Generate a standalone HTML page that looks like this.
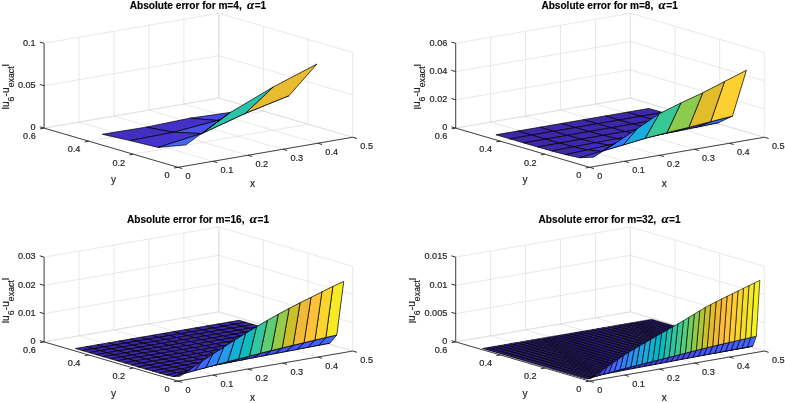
<!DOCTYPE html>
<html><head><meta charset="utf-8"><title>Absolute error</title>
<style>
html,body{margin:0;padding:0;background:#fff;}
svg{display:block;font-family:"Liberation Sans",sans-serif;}
</style></head><body>
<svg width="785" height="403" viewBox="0 0 785 403">
<rect width="785" height="403" fill="#fff"/>
<g stroke-linecap="butt">
<line x1="178" y1="167.3" x2="44.1" y2="128.1" stroke="#d8d8d8" stroke-width="0.6"/>
<line x1="44.1" y1="128.1" x2="44.1" y2="43.3" stroke="#d8d8d8" stroke-width="0.6"/>
<line x1="212.94" y1="161.29" x2="79.04" y2="122.09" stroke="#d8d8d8" stroke-width="0.6"/>
<line x1="79.04" y1="122.09" x2="79.04" y2="37.29" stroke="#d8d8d8" stroke-width="0.6"/>
<line x1="247.88" y1="155.28" x2="113.98" y2="116.08" stroke="#d8d8d8" stroke-width="0.6"/>
<line x1="113.98" y1="116.08" x2="113.98" y2="31.28" stroke="#d8d8d8" stroke-width="0.6"/>
<line x1="282.82" y1="149.27" x2="148.92" y2="110.07" stroke="#d8d8d8" stroke-width="0.6"/>
<line x1="148.92" y1="110.07" x2="148.92" y2="25.27" stroke="#d8d8d8" stroke-width="0.6"/>
<line x1="317.76" y1="143.26" x2="183.86" y2="104.06" stroke="#d8d8d8" stroke-width="0.6"/>
<line x1="183.86" y1="104.06" x2="183.86" y2="19.26" stroke="#d8d8d8" stroke-width="0.6"/>
<line x1="352.7" y1="137.25" x2="218.8" y2="98.05" stroke="#d8d8d8" stroke-width="0.6"/>
<line x1="218.8" y1="98.05" x2="218.8" y2="13.25" stroke="#d8d8d8" stroke-width="0.6"/>
<line x1="178" y1="167.3" x2="352.7" y2="137.25" stroke="#d8d8d8" stroke-width="0.6"/>
<line x1="352.7" y1="137.25" x2="352.7" y2="52.45" stroke="#d8d8d8" stroke-width="0.6"/>
<line x1="133.37" y1="154.23" x2="308.07" y2="124.18" stroke="#d8d8d8" stroke-width="0.6"/>
<line x1="308.07" y1="124.18" x2="308.07" y2="39.38" stroke="#d8d8d8" stroke-width="0.6"/>
<line x1="88.73" y1="141.17" x2="263.43" y2="111.12" stroke="#d8d8d8" stroke-width="0.6"/>
<line x1="263.43" y1="111.12" x2="263.43" y2="26.32" stroke="#d8d8d8" stroke-width="0.6"/>
<line x1="44.1" y1="128.1" x2="218.8" y2="98.05" stroke="#d8d8d8" stroke-width="0.6"/>
<line x1="218.8" y1="98.05" x2="218.8" y2="13.25" stroke="#d8d8d8" stroke-width="0.6"/>
<line x1="44.1" y1="128.1" x2="218.8" y2="98.05" stroke="#d8d8d8" stroke-width="0.6"/>
<line x1="218.8" y1="98.05" x2="352.7" y2="137.25" stroke="#d8d8d8" stroke-width="0.6"/>
<line x1="44.1" y1="85.7" x2="218.8" y2="55.65" stroke="#d8d8d8" stroke-width="0.6"/>
<line x1="218.8" y1="55.65" x2="352.7" y2="94.85" stroke="#d8d8d8" stroke-width="0.6"/>
<line x1="44.1" y1="43.3" x2="218.8" y2="13.25" stroke="#d8d8d8" stroke-width="0.6"/>
<line x1="218.8" y1="13.25" x2="352.7" y2="52.45" stroke="#d8d8d8" stroke-width="0.6"/>
</g>
<line x1="178" y1="167.3" x2="352.7" y2="137.25" stroke="#262626" stroke-width="0.85"/>
<line x1="178" y1="167.3" x2="44.1" y2="128.1" stroke="#262626" stroke-width="0.85"/>
<line x1="44.1" y1="128.1" x2="44.1" y2="43.3" stroke="#262626" stroke-width="0.85"/>
<line x1="178" y1="167.3" x2="182.32" y2="168.56" stroke="#262626" stroke-width="0.95"/>
<line x1="212.94" y1="161.29" x2="217.26" y2="162.55" stroke="#262626" stroke-width="0.95"/>
<line x1="247.88" y1="155.28" x2="252.2" y2="156.54" stroke="#262626" stroke-width="0.95"/>
<line x1="282.82" y1="149.27" x2="287.14" y2="150.53" stroke="#262626" stroke-width="0.95"/>
<line x1="317.76" y1="143.26" x2="322.08" y2="144.52" stroke="#262626" stroke-width="0.95"/>
<line x1="352.7" y1="137.25" x2="357.02" y2="138.51" stroke="#262626" stroke-width="0.95"/>
<line x1="178" y1="167.3" x2="174.01" y2="167.99" stroke="#262626" stroke-width="0.95"/>
<line x1="133.37" y1="154.23" x2="129.38" y2="154.92" stroke="#262626" stroke-width="0.95"/>
<line x1="88.73" y1="141.17" x2="84.74" y2="141.85" stroke="#262626" stroke-width="0.95"/>
<line x1="44.1" y1="128.1" x2="40.11" y2="128.79" stroke="#262626" stroke-width="0.95"/>
<line x1="44.1" y1="128.1" x2="39.78" y2="126.84" stroke="#262626" stroke-width="0.95"/>
<line x1="44.1" y1="85.7" x2="39.78" y2="84.44" stroke="#262626" stroke-width="0.95"/>
<line x1="44.1" y1="43.3" x2="39.78" y2="42.04" stroke="#262626" stroke-width="0.95"/>
<g font-size="9.15" fill="#262626" stroke="#262626" stroke-width="0.2"><text x="185.6" y="178.7">0</text><text x="220.54" y="173.49">0.1</text><text x="255.48" y="167.48">0.2</text><text x="290.42" y="161.47">0.3</text><text x="325.36" y="155.46">0.4</text><text x="360.3" y="149.45">0.5</text><text x="169.7" y="178.1" text-anchor="end">0</text><text x="125.07" y="165.53" text-anchor="end">0.2</text><text x="80.43" y="152.47" text-anchor="end">0.4</text><text x="35.8" y="139.4" text-anchor="end">0.6</text><text x="35.7" y="130.4" text-anchor="end">0</text><text x="35.7" y="88" text-anchor="end">0.05</text><text x="35.7" y="45.6" text-anchor="end">0.1</text></g>
<g font-size="10.1" fill="#262626" stroke="#262626" stroke-width="0.2"><text x="252.6" y="187" text-anchor="middle">x</text><text x="113.4" y="183.2" text-anchor="middle">y</text><text transform="translate(8.5,86.7) rotate(-90)" text-anchor="middle" letter-spacing="0.1"><tspan font-size="7" font-weight="bold" dy="-1.2">|</tspan><tspan dy="1.2">u</tspan><tspan dy="5.2" font-size="8.6">6</tspan><tspan dy="-5.2">-u</tspan><tspan dy="5.2" font-size="8.6">exact</tspan><tspan dy="-6.4" font-size="7" font-weight="bold">|</tspan></text></g>
<text x="198" y="8.7" text-anchor="middle" font-size="10.1" font-weight="bold" fill="#000" stroke="#000" stroke-width="0.15" style="white-space:pre">Absolute error for m=4,  <tspan font-style="italic" font-family="'Liberation Serif',serif" font-size="13" dx="-0.3">α</tspan><tspan dx="0.5">=1</tspan></text>
<g stroke="#000" stroke-width="0.72" stroke-linejoin="round"><polygon points="217.45,120.47 261.12,104.48 233.23,112 189.55,118.24" fill="#4744e8"/><polygon points="173.77,132.22 217.45,120.47 189.55,118.24 145.88,127.19" fill="#4331c8"/><polygon points="245.34,113.37 289.02,95.68 261.12,104.48 217.45,120.47" fill="#2c8ff0"/><polygon points="130.1,140.58 173.77,132.22 145.88,127.19 102.2,134.28" fill="#422ebf"/><polygon points="201.67,133.61 245.34,113.37 217.45,120.47 173.77,132.22" fill="#4850f3"/><polygon points="157.99,147.39 201.67,133.61 173.77,132.22 130.1,140.58" fill="#4433cc"/><polygon points="273.24,86.94 316.91,63.99 289.02,95.68 245.34,113.37" fill="#e9bb2f"/><polygon points="229.56,112.94 273.24,86.94 245.34,113.37 201.67,133.61" fill="#29c3aa"/><polygon points="185.89,144.87 229.56,112.94 201.67,133.61 157.99,147.39" fill="#4466fd"/></g>
<g stroke-linecap="butt">
<line x1="589.6" y1="167.3" x2="455.7" y2="128.1" stroke="#d8d8d8" stroke-width="0.6"/>
<line x1="455.7" y1="128.1" x2="455.7" y2="43.3" stroke="#d8d8d8" stroke-width="0.6"/>
<line x1="624.54" y1="161.29" x2="490.64" y2="122.09" stroke="#d8d8d8" stroke-width="0.6"/>
<line x1="490.64" y1="122.09" x2="490.64" y2="37.29" stroke="#d8d8d8" stroke-width="0.6"/>
<line x1="659.48" y1="155.28" x2="525.58" y2="116.08" stroke="#d8d8d8" stroke-width="0.6"/>
<line x1="525.58" y1="116.08" x2="525.58" y2="31.28" stroke="#d8d8d8" stroke-width="0.6"/>
<line x1="694.42" y1="149.27" x2="560.52" y2="110.07" stroke="#d8d8d8" stroke-width="0.6"/>
<line x1="560.52" y1="110.07" x2="560.52" y2="25.27" stroke="#d8d8d8" stroke-width="0.6"/>
<line x1="729.36" y1="143.26" x2="595.46" y2="104.06" stroke="#d8d8d8" stroke-width="0.6"/>
<line x1="595.46" y1="104.06" x2="595.46" y2="19.26" stroke="#d8d8d8" stroke-width="0.6"/>
<line x1="764.3" y1="137.25" x2="630.4" y2="98.05" stroke="#d8d8d8" stroke-width="0.6"/>
<line x1="630.4" y1="98.05" x2="630.4" y2="13.25" stroke="#d8d8d8" stroke-width="0.6"/>
<line x1="589.6" y1="167.3" x2="764.3" y2="137.25" stroke="#d8d8d8" stroke-width="0.6"/>
<line x1="764.3" y1="137.25" x2="764.3" y2="52.45" stroke="#d8d8d8" stroke-width="0.6"/>
<line x1="544.97" y1="154.23" x2="719.67" y2="124.18" stroke="#d8d8d8" stroke-width="0.6"/>
<line x1="719.67" y1="124.18" x2="719.67" y2="39.38" stroke="#d8d8d8" stroke-width="0.6"/>
<line x1="500.33" y1="141.17" x2="675.03" y2="111.12" stroke="#d8d8d8" stroke-width="0.6"/>
<line x1="675.03" y1="111.12" x2="675.03" y2="26.32" stroke="#d8d8d8" stroke-width="0.6"/>
<line x1="455.7" y1="128.1" x2="630.4" y2="98.05" stroke="#d8d8d8" stroke-width="0.6"/>
<line x1="630.4" y1="98.05" x2="630.4" y2="13.25" stroke="#d8d8d8" stroke-width="0.6"/>
<line x1="455.7" y1="128.1" x2="630.4" y2="98.05" stroke="#d8d8d8" stroke-width="0.6"/>
<line x1="630.4" y1="98.05" x2="764.3" y2="137.25" stroke="#d8d8d8" stroke-width="0.6"/>
<line x1="455.7" y1="99.83" x2="630.4" y2="69.78" stroke="#d8d8d8" stroke-width="0.6"/>
<line x1="630.4" y1="69.78" x2="764.3" y2="108.98" stroke="#d8d8d8" stroke-width="0.6"/>
<line x1="455.7" y1="71.57" x2="630.4" y2="41.52" stroke="#d8d8d8" stroke-width="0.6"/>
<line x1="630.4" y1="41.52" x2="764.3" y2="80.72" stroke="#d8d8d8" stroke-width="0.6"/>
<line x1="455.7" y1="43.3" x2="630.4" y2="13.25" stroke="#d8d8d8" stroke-width="0.6"/>
<line x1="630.4" y1="13.25" x2="764.3" y2="52.45" stroke="#d8d8d8" stroke-width="0.6"/>
</g>
<line x1="589.6" y1="167.3" x2="764.3" y2="137.25" stroke="#262626" stroke-width="0.85"/>
<line x1="589.6" y1="167.3" x2="455.7" y2="128.1" stroke="#262626" stroke-width="0.85"/>
<line x1="455.7" y1="128.1" x2="455.7" y2="43.3" stroke="#262626" stroke-width="0.85"/>
<line x1="589.6" y1="167.3" x2="593.92" y2="168.56" stroke="#262626" stroke-width="0.95"/>
<line x1="624.54" y1="161.29" x2="628.86" y2="162.55" stroke="#262626" stroke-width="0.95"/>
<line x1="659.48" y1="155.28" x2="663.8" y2="156.54" stroke="#262626" stroke-width="0.95"/>
<line x1="694.42" y1="149.27" x2="698.74" y2="150.53" stroke="#262626" stroke-width="0.95"/>
<line x1="729.36" y1="143.26" x2="733.68" y2="144.52" stroke="#262626" stroke-width="0.95"/>
<line x1="764.3" y1="137.25" x2="768.62" y2="138.51" stroke="#262626" stroke-width="0.95"/>
<line x1="589.6" y1="167.3" x2="585.61" y2="167.99" stroke="#262626" stroke-width="0.95"/>
<line x1="544.97" y1="154.23" x2="540.98" y2="154.92" stroke="#262626" stroke-width="0.95"/>
<line x1="500.33" y1="141.17" x2="496.34" y2="141.85" stroke="#262626" stroke-width="0.95"/>
<line x1="455.7" y1="128.1" x2="451.71" y2="128.79" stroke="#262626" stroke-width="0.95"/>
<line x1="455.7" y1="128.1" x2="451.38" y2="126.84" stroke="#262626" stroke-width="0.95"/>
<line x1="455.7" y1="99.83" x2="451.38" y2="98.57" stroke="#262626" stroke-width="0.95"/>
<line x1="455.7" y1="71.57" x2="451.38" y2="70.3" stroke="#262626" stroke-width="0.95"/>
<line x1="455.7" y1="43.3" x2="451.38" y2="42.04" stroke="#262626" stroke-width="0.95"/>
<g font-size="9.15" fill="#262626" stroke="#262626" stroke-width="0.2"><text x="597.2" y="178.7">0</text><text x="632.14" y="173.49">0.1</text><text x="667.08" y="167.48">0.2</text><text x="702.02" y="161.47">0.3</text><text x="736.96" y="155.46">0.4</text><text x="771.9" y="149.45">0.5</text><text x="581.3" y="178.1" text-anchor="end">0</text><text x="536.67" y="165.53" text-anchor="end">0.2</text><text x="492.03" y="152.47" text-anchor="end">0.4</text><text x="447.4" y="139.4" text-anchor="end">0.6</text><text x="447.3" y="130.4" text-anchor="end">0</text><text x="447.3" y="102.13" text-anchor="end">0.02</text><text x="447.3" y="73.87" text-anchor="end">0.04</text><text x="447.3" y="45.6" text-anchor="end">0.06</text></g>
<g font-size="10.1" fill="#262626" stroke="#262626" stroke-width="0.2"><text x="664.2" y="187" text-anchor="middle">x</text><text x="525" y="183.2" text-anchor="middle">y</text><text transform="translate(420.1,86.7) rotate(-90)" text-anchor="middle" letter-spacing="0.1"><tspan font-size="7" font-weight="bold" dy="-1.2">|</tspan><tspan dy="1.2">u</tspan><tspan dy="5.2" font-size="8.6">6</tspan><tspan dy="-5.2">-u</tspan><tspan dy="5.2" font-size="8.6">exact</tspan><tspan dy="-6.4" font-size="7" font-weight="bold">|</tspan></text></g>
<text x="609.6" y="8.7" text-anchor="middle" font-size="10.1" font-weight="bold" fill="#000" stroke="#000" stroke-width="0.15" style="white-space:pre">Absolute error for m=8,  <tspan font-style="italic" font-family="'Liberation Serif',serif" font-size="13" dx="-0.3">α</tspan><tspan dx="0.5">=1</tspan></text>
<g stroke="#000" stroke-width="0.72" stroke-linejoin="round"><polygon points="640.88,116.22 662.72,112.45 648.77,108.44 626.93,112.2" fill="#3e27aa"/><polygon points="619.04,120 640.88,116.22 626.93,112.2 605.1,115.96" fill="#3e27a9"/><polygon points="654.83,120.19 676.67,116.4 662.72,112.45 640.88,116.22" fill="#3e27ab"/><polygon points="597.21,123.76 619.04,120 605.1,115.96 583.26,119.73" fill="#3e27a9"/><polygon points="632.99,123.98 654.83,120.19 640.88,116.22 619.04,120" fill="#3e27ab"/><polygon points="668.78,123.92 690.62,120.09 676.67,116.4 654.83,120.19" fill="#3f28af"/><polygon points="575.37,127.53 597.21,123.76 583.26,119.73 561.42,123.49" fill="#3e27a9"/><polygon points="611.16,127.76 632.99,123.98 619.04,120 597.21,123.76" fill="#3e27aa"/><polygon points="646.94,127.75 668.78,123.92 654.83,120.19 632.99,123.98" fill="#3f28ae"/><polygon points="682.73,126.81 704.56,122.83 690.62,120.09 668.78,123.92" fill="#412dbc"/><polygon points="553.53,131.31 575.37,127.53 561.42,123.49 539.58,127.26" fill="#3e27a9"/><polygon points="589.32,131.54 611.16,127.76 597.21,123.76 575.37,127.53" fill="#3e27aa"/><polygon points="625.1,131.57 646.94,127.75 632.99,123.98 611.16,127.76" fill="#3f28ad"/><polygon points="660.89,130.8 682.73,126.81 668.78,123.92 646.94,127.75" fill="#412cba"/><polygon points="696.67,127.1 718.51,122.64 704.56,122.83 682.73,126.81" fill="#463de0"/><polygon points="531.69,135.09 553.53,131.31 539.58,127.26 517.75,131.02" fill="#3e26a9"/><polygon points="567.48,135.34 589.32,131.54 575.37,127.53 553.53,131.31" fill="#3e27aa"/><polygon points="603.27,135.4 625.1,131.57 611.16,127.76 589.32,131.54" fill="#3f28ad"/><polygon points="639.05,134.74 660.89,130.8 646.94,127.75 625.1,131.57" fill="#402bb8"/><polygon points="674.84,131.57 696.67,127.1 682.73,126.81 660.89,130.8" fill="#463ada"/><polygon points="509.86,138.87 531.69,135.09 517.75,131.02 495.91,134.79" fill="#3e26a8"/><polygon points="545.64,139.14 567.48,135.34 553.53,131.31 531.69,135.09" fill="#3e27a9"/><polygon points="581.43,139.26 603.27,135.4 589.32,131.54 567.48,135.34" fill="#3e27ab"/><polygon points="617.21,138.71 639.05,134.74 625.1,131.57 603.27,135.4" fill="#402ab5"/><polygon points="710.62,121.74 732.46,116.11 718.51,122.64 696.67,127.1" fill="#3d70ff"/><polygon points="653,135.92 674.84,131.57 660.89,130.8 639.05,134.74" fill="#4537d5"/><polygon points="523.81,142.94 545.64,139.14 531.69,135.09 509.86,138.87" fill="#3e26a9"/><polygon points="559.59,143.13 581.43,139.26 567.48,135.34 545.64,139.14" fill="#3e27aa"/><polygon points="688.78,127.42 710.62,121.74 696.67,127.1 674.84,131.57" fill="#4465fd"/><polygon points="595.38,142.8 617.21,138.71 603.27,135.4 581.43,139.26" fill="#3f29b2"/><polygon points="631.16,140.35 653,135.92 639.05,134.74 617.21,138.71" fill="#4434cf"/><polygon points="537.75,146.99 559.59,143.13 545.64,139.14 523.81,142.94" fill="#3e27a9"/><polygon points="666.95,132.78 688.78,127.42 674.84,131.57 653,135.92" fill="#475dfa"/><polygon points="573.54,146.88 595.38,142.8 581.43,139.26 559.59,143.13" fill="#3f28ae"/><polygon points="609.32,145.14 631.16,140.35 617.21,138.71 595.38,142.8" fill="#4230c4"/><polygon points="645.11,138.35 666.95,132.78 653,135.92 631.16,140.35" fill="#4853f5"/><polygon points="551.7,150.94 573.54,146.88 559.59,143.13 537.75,146.99" fill="#3e27aa"/><polygon points="587.49,149.91 609.32,145.14 595.38,142.8 573.54,146.88" fill="#412cb9"/><polygon points="623.27,144.9 645.11,138.35 631.16,140.35 609.32,145.14" fill="#4744e8"/><polygon points="724.57,81.48 746.41,70.31 732.46,116.11 710.62,121.74" fill="#fcd030"/><polygon points="565.65,154.63 587.49,149.91 573.54,146.88 551.7,150.94" fill="#3f28af"/><polygon points="702.73,92.84 724.57,81.48 710.62,121.74 688.78,127.42" fill="#e1bc2b"/><polygon points="601.43,151.38 623.27,144.9 609.32,145.14 587.49,149.91" fill="#4536d4"/><polygon points="680.89,102.95 702.73,92.84 688.78,127.42 666.95,132.78" fill="#8dcb4f"/><polygon points="579.6,157.73 601.43,151.38 587.49,149.91 565.65,154.63" fill="#412cba"/><polygon points="659.06,113.86 680.89,102.95 666.95,132.78 645.11,138.35" fill="#38c896"/><polygon points="637.22,128.66 659.06,113.86 645.11,138.35 623.27,144.9" fill="#1aacdd"/><polygon points="615.38,143.19 637.22,128.66 623.27,144.9 601.43,151.38" fill="#3578fd"/><polygon points="593.54,157.2 615.38,143.19 601.43,151.38 579.6,157.73" fill="#4740e4"/></g>
<g stroke-linecap="butt">
<line x1="178" y1="381.1" x2="44.1" y2="341.9" stroke="#d8d8d8" stroke-width="0.6"/>
<line x1="44.1" y1="341.9" x2="44.1" y2="257.1" stroke="#d8d8d8" stroke-width="0.6"/>
<line x1="212.94" y1="375.09" x2="79.04" y2="335.89" stroke="#d8d8d8" stroke-width="0.6"/>
<line x1="79.04" y1="335.89" x2="79.04" y2="251.09" stroke="#d8d8d8" stroke-width="0.6"/>
<line x1="247.88" y1="369.08" x2="113.98" y2="329.88" stroke="#d8d8d8" stroke-width="0.6"/>
<line x1="113.98" y1="329.88" x2="113.98" y2="245.08" stroke="#d8d8d8" stroke-width="0.6"/>
<line x1="282.82" y1="363.07" x2="148.92" y2="323.87" stroke="#d8d8d8" stroke-width="0.6"/>
<line x1="148.92" y1="323.87" x2="148.92" y2="239.07" stroke="#d8d8d8" stroke-width="0.6"/>
<line x1="317.76" y1="357.06" x2="183.86" y2="317.86" stroke="#d8d8d8" stroke-width="0.6"/>
<line x1="183.86" y1="317.86" x2="183.86" y2="233.06" stroke="#d8d8d8" stroke-width="0.6"/>
<line x1="352.7" y1="351.05" x2="218.8" y2="311.85" stroke="#d8d8d8" stroke-width="0.6"/>
<line x1="218.8" y1="311.85" x2="218.8" y2="227.05" stroke="#d8d8d8" stroke-width="0.6"/>
<line x1="178" y1="381.1" x2="352.7" y2="351.05" stroke="#d8d8d8" stroke-width="0.6"/>
<line x1="352.7" y1="351.05" x2="352.7" y2="266.25" stroke="#d8d8d8" stroke-width="0.6"/>
<line x1="133.37" y1="368.03" x2="308.07" y2="337.98" stroke="#d8d8d8" stroke-width="0.6"/>
<line x1="308.07" y1="337.98" x2="308.07" y2="253.18" stroke="#d8d8d8" stroke-width="0.6"/>
<line x1="88.73" y1="354.97" x2="263.43" y2="324.92" stroke="#d8d8d8" stroke-width="0.6"/>
<line x1="263.43" y1="324.92" x2="263.43" y2="240.12" stroke="#d8d8d8" stroke-width="0.6"/>
<line x1="44.1" y1="341.9" x2="218.8" y2="311.85" stroke="#d8d8d8" stroke-width="0.6"/>
<line x1="218.8" y1="311.85" x2="218.8" y2="227.05" stroke="#d8d8d8" stroke-width="0.6"/>
<line x1="44.1" y1="341.9" x2="218.8" y2="311.85" stroke="#d8d8d8" stroke-width="0.6"/>
<line x1="218.8" y1="311.85" x2="352.7" y2="351.05" stroke="#d8d8d8" stroke-width="0.6"/>
<line x1="44.1" y1="313.63" x2="218.8" y2="283.58" stroke="#d8d8d8" stroke-width="0.6"/>
<line x1="218.8" y1="283.58" x2="352.7" y2="322.78" stroke="#d8d8d8" stroke-width="0.6"/>
<line x1="44.1" y1="285.37" x2="218.8" y2="255.32" stroke="#d8d8d8" stroke-width="0.6"/>
<line x1="218.8" y1="255.32" x2="352.7" y2="294.52" stroke="#d8d8d8" stroke-width="0.6"/>
<line x1="44.1" y1="257.1" x2="218.8" y2="227.05" stroke="#d8d8d8" stroke-width="0.6"/>
<line x1="218.8" y1="227.05" x2="352.7" y2="266.25" stroke="#d8d8d8" stroke-width="0.6"/>
</g>
<line x1="178" y1="381.1" x2="352.7" y2="351.05" stroke="#262626" stroke-width="0.85"/>
<line x1="178" y1="381.1" x2="44.1" y2="341.9" stroke="#262626" stroke-width="0.85"/>
<line x1="44.1" y1="341.9" x2="44.1" y2="257.1" stroke="#262626" stroke-width="0.85"/>
<line x1="178" y1="381.1" x2="182.32" y2="382.36" stroke="#262626" stroke-width="0.95"/>
<line x1="212.94" y1="375.09" x2="217.26" y2="376.35" stroke="#262626" stroke-width="0.95"/>
<line x1="247.88" y1="369.08" x2="252.2" y2="370.34" stroke="#262626" stroke-width="0.95"/>
<line x1="282.82" y1="363.07" x2="287.14" y2="364.33" stroke="#262626" stroke-width="0.95"/>
<line x1="317.76" y1="357.06" x2="322.08" y2="358.32" stroke="#262626" stroke-width="0.95"/>
<line x1="352.7" y1="351.05" x2="357.02" y2="352.31" stroke="#262626" stroke-width="0.95"/>
<line x1="178" y1="381.1" x2="174.01" y2="381.79" stroke="#262626" stroke-width="0.95"/>
<line x1="133.37" y1="368.03" x2="129.38" y2="368.72" stroke="#262626" stroke-width="0.95"/>
<line x1="88.73" y1="354.97" x2="84.74" y2="355.65" stroke="#262626" stroke-width="0.95"/>
<line x1="44.1" y1="341.9" x2="40.11" y2="342.59" stroke="#262626" stroke-width="0.95"/>
<line x1="44.1" y1="341.9" x2="39.78" y2="340.64" stroke="#262626" stroke-width="0.95"/>
<line x1="44.1" y1="313.63" x2="39.78" y2="312.37" stroke="#262626" stroke-width="0.95"/>
<line x1="44.1" y1="285.37" x2="39.78" y2="284.1" stroke="#262626" stroke-width="0.95"/>
<line x1="44.1" y1="257.1" x2="39.78" y2="255.84" stroke="#262626" stroke-width="0.95"/>
<g font-size="9.15" fill="#262626" stroke="#262626" stroke-width="0.2"><text x="185.6" y="392.5">0</text><text x="220.54" y="387.29">0.1</text><text x="255.48" y="381.28">0.2</text><text x="290.42" y="375.27">0.3</text><text x="325.36" y="369.26">0.4</text><text x="360.3" y="363.25">0.5</text><text x="169.7" y="391.9" text-anchor="end">0</text><text x="125.07" y="379.33" text-anchor="end">0.2</text><text x="80.43" y="366.27" text-anchor="end">0.4</text><text x="35.8" y="353.2" text-anchor="end">0.6</text><text x="35.7" y="344.2" text-anchor="end">0</text><text x="35.7" y="315.93" text-anchor="end">0.01</text><text x="35.7" y="287.67" text-anchor="end">0.02</text><text x="35.7" y="259.4" text-anchor="end">0.03</text></g>
<g font-size="10.1" fill="#262626" stroke="#262626" stroke-width="0.2"><text x="252.6" y="400.8" text-anchor="middle">x</text><text x="113.4" y="397" text-anchor="middle">y</text><text transform="translate(8.5,300.5) rotate(-90)" text-anchor="middle" letter-spacing="0.1"><tspan font-size="7" font-weight="bold" dy="-1.2">|</tspan><tspan dy="1.2">u</tspan><tspan dy="5.2" font-size="8.6">6</tspan><tspan dy="-5.2">-u</tspan><tspan dy="5.2" font-size="8.6">exact</tspan><tspan dy="-6.4" font-size="7" font-weight="bold">|</tspan></text></g>
<text x="198" y="222.5" text-anchor="middle" font-size="10.1" font-weight="bold" fill="#000" stroke="#000" stroke-width="0.15" style="white-space:pre">Absolute error for m=16,  <tspan font-style="italic" font-family="'Liberation Serif',serif" font-size="13" dx="-0.3">α</tspan><tspan dx="0.5">=1</tspan></text>
<g stroke="#000" stroke-width="0.72" stroke-linejoin="round"><polygon points="235.2,324.26 246.12,322.38 239.14,320.34 228.23,322.22" fill="#3e26a8"/><polygon points="224.28,326.14 235.2,324.26 228.23,322.22 217.31,324.1" fill="#3e26a8"/><polygon points="242.17,326.3 253.09,324.43 246.12,322.38 235.2,324.26" fill="#3e26a8"/><polygon points="213.36,328.02 224.28,326.14 217.31,324.1 206.39,325.98" fill="#3e26a8"/><polygon points="231.25,328.18 242.17,326.3 235.2,324.26 224.28,326.14" fill="#3e26a8"/><polygon points="249.15,328.34 260.07,326.47 253.09,324.43 242.17,326.3" fill="#3e26a8"/><polygon points="202.44,329.9 213.36,328.02 206.39,325.98 195.47,327.86" fill="#3e26a8"/><polygon points="220.34,330.06 231.25,328.18 224.28,326.14 213.36,328.02" fill="#3e26a8"/><polygon points="238.23,330.22 249.15,328.34 242.17,326.3 231.25,328.18" fill="#3e26a8"/><polygon points="256.12,330.38 267.04,328.51 260.07,326.47 249.15,328.34" fill="#3e26a8"/><polygon points="191.52,331.78 202.44,329.9 195.47,327.86 184.55,329.73" fill="#3e26a8"/><polygon points="209.42,331.94 220.34,330.06 213.36,328.02 202.44,329.9" fill="#3e26a8"/><polygon points="227.31,332.1 238.23,330.22 231.25,328.18 220.34,330.06" fill="#3e26a8"/><polygon points="245.2,332.26 256.12,330.38 249.15,328.34 238.23,330.22" fill="#3e26a8"/><polygon points="263.1,332.42 274.01,330.55 267.04,328.51 256.12,330.38" fill="#3e26a8"/><polygon points="180.61,333.65 191.52,331.78 184.55,329.73 173.63,331.61" fill="#3e26a8"/><polygon points="198.5,333.82 209.42,331.94 202.44,329.9 191.52,331.78" fill="#3e26a8"/><polygon points="216.39,333.98 227.31,332.1 220.34,330.06 209.42,331.94" fill="#3e26a8"/><polygon points="234.28,334.14 245.2,332.26 238.23,330.22 227.31,332.1" fill="#3e26a8"/><polygon points="252.18,334.3 263.1,332.42 256.12,330.38 245.2,332.26" fill="#3e26a8"/><polygon points="270.07,334.46 280.99,332.58 274.01,330.55 263.1,332.42" fill="#3e26a9"/><polygon points="169.69,335.53 180.61,333.65 173.63,331.61 162.71,333.49" fill="#3e26a8"/><polygon points="187.58,335.69 198.5,333.82 191.52,331.78 180.61,333.65" fill="#3e26a8"/><polygon points="205.47,335.86 216.39,333.98 209.42,331.94 198.5,333.82" fill="#3e26a8"/><polygon points="223.37,336.02 234.28,334.14 227.31,332.1 216.39,333.98" fill="#3e26a8"/><polygon points="241.26,336.18 252.18,334.3 245.2,332.26 234.28,334.14" fill="#3e26a8"/><polygon points="259.15,336.34 270.07,334.46 263.1,332.42 252.18,334.3" fill="#3e26a9"/><polygon points="277.04,336.49 287.96,334.61 280.99,332.58 270.07,334.46" fill="#3e26a9"/><polygon points="158.77,337.41 169.69,335.53 162.71,333.49 151.79,335.37" fill="#3e26a8"/><polygon points="176.66,337.57 187.58,335.69 180.61,333.65 169.69,335.53" fill="#3e26a8"/><polygon points="194.55,337.74 205.47,335.86 198.5,333.82 187.58,335.69" fill="#3e26a8"/><polygon points="212.45,337.9 223.37,336.02 216.39,333.98 205.47,335.86" fill="#3e26a8"/><polygon points="230.34,338.06 241.26,336.18 234.28,334.14 223.37,336.02" fill="#3e26a8"/><polygon points="248.23,338.22 259.15,336.34 252.18,334.3 241.26,336.18" fill="#3e26a8"/><polygon points="266.12,338.37 277.04,336.49 270.07,334.46 259.15,336.34" fill="#3e26a9"/><polygon points="284.02,338.5 294.94,336.62 287.96,334.61 277.04,336.49" fill="#3e27a9"/><polygon points="147.85,339.29 158.77,337.41 151.79,335.37 140.88,337.25" fill="#3e26a8"/><polygon points="165.74,339.45 176.66,337.57 169.69,335.53 158.77,337.41" fill="#3e26a8"/><polygon points="183.63,339.61 194.55,337.74 187.58,335.69 176.66,337.57" fill="#3e26a8"/><polygon points="201.53,339.78 212.45,337.9 205.47,335.86 194.55,337.74" fill="#3e26a8"/><polygon points="219.42,339.94 230.34,338.06 223.37,336.02 212.45,337.9" fill="#3e26a8"/><polygon points="237.31,340.1 248.23,338.22 241.26,336.18 230.34,338.06" fill="#3e26a8"/><polygon points="255.21,340.25 266.12,338.37 259.15,336.34 248.23,338.22" fill="#3e26a9"/><polygon points="273.1,340.39 284.02,338.5 277.04,336.49 266.12,338.37" fill="#3e27a9"/><polygon points="290.99,340.5 301.91,338.61 294.94,336.62 284.02,338.5" fill="#3e27a9"/><polygon points="136.93,341.17 147.85,339.29 140.88,337.25 129.96,339.12" fill="#3e26a8"/><polygon points="154.82,341.33 165.74,339.45 158.77,337.41 147.85,339.29" fill="#3e26a8"/><polygon points="172.72,341.49 183.63,339.61 176.66,337.57 165.74,339.45" fill="#3e26a8"/><polygon points="190.61,341.65 201.53,339.78 194.55,337.74 183.63,339.61" fill="#3e26a8"/><polygon points="208.5,341.82 219.42,339.94 212.45,337.9 201.53,339.78" fill="#3e26a8"/><polygon points="226.39,341.97 237.31,340.1 230.34,338.06 219.42,339.94" fill="#3e26a8"/><polygon points="244.29,342.13 255.21,340.25 248.23,338.22 237.31,340.1" fill="#3e26a9"/><polygon points="262.18,342.27 273.1,340.39 266.12,338.37 255.21,340.25" fill="#3e27a9"/><polygon points="280.07,342.38 290.99,340.5 284.02,338.5 273.1,340.39" fill="#3e27a9"/><polygon points="297.97,342.44 308.88,340.55 301.91,338.61 290.99,340.5" fill="#3e27ab"/><polygon points="126.01,343.04 136.93,341.17 129.96,339.12 119.04,341" fill="#3e26a8"/><polygon points="143.9,343.21 154.82,341.33 147.85,339.29 136.93,341.17" fill="#3e26a8"/><polygon points="161.8,343.37 172.72,341.49 165.74,339.45 154.82,341.33" fill="#3e26a8"/><polygon points="179.69,343.53 190.61,341.65 183.63,339.61 172.72,341.49" fill="#3e26a8"/><polygon points="197.58,343.69 208.5,341.82 201.53,339.78 190.61,341.65" fill="#3e26a8"/><polygon points="215.48,343.85 226.39,341.97 219.42,339.94 208.5,341.82" fill="#3e26a8"/><polygon points="233.37,344.01 244.29,342.13 237.31,340.1 226.39,341.97" fill="#3e26a9"/><polygon points="251.26,344.15 262.18,342.27 255.21,340.25 244.29,342.13" fill="#3e26a9"/><polygon points="269.15,344.26 280.07,342.38 273.1,340.39 262.18,342.27" fill="#3e27a9"/><polygon points="287.05,344.33 297.97,342.44 290.99,340.5 280.07,342.38" fill="#3e27aa"/><polygon points="304.94,344.15 315.86,342.25 308.88,340.55 297.97,342.44" fill="#3f28ae"/><polygon points="115.09,344.92 126.01,343.04 119.04,341 108.12,342.88" fill="#3e26a8"/><polygon points="132.99,345.09 143.9,343.21 136.93,341.17 126.01,343.04" fill="#3e26a8"/><polygon points="150.88,345.25 161.8,343.37 154.82,341.33 143.9,343.21" fill="#3e26a8"/><polygon points="168.77,345.41 179.69,343.53 172.72,341.49 161.8,343.37" fill="#3e26a8"/><polygon points="186.66,345.57 197.58,343.69 190.61,341.65 179.69,343.53" fill="#3e26a8"/><polygon points="204.56,345.73 215.48,343.85 208.5,341.82 197.58,343.69" fill="#3e26a8"/><polygon points="222.45,345.89 233.37,344.01 226.39,341.97 215.48,343.85" fill="#3e26a9"/><polygon points="240.34,346.03 251.26,344.15 244.29,342.13 233.37,344.01" fill="#3e26a9"/><polygon points="258.23,346.15 269.15,344.26 262.18,342.27 251.26,344.15" fill="#3e27a9"/><polygon points="276.13,346.22 287.05,344.33 280.07,342.38 269.15,344.26" fill="#3e27aa"/><polygon points="294.02,346.06 304.94,344.15 297.97,342.44 287.05,344.33" fill="#3f28ae"/><polygon points="104.17,346.8 115.09,344.92 108.12,342.88 97.2,344.76" fill="#3e26a8"/><polygon points="122.07,346.96 132.99,345.09 126.01,343.04 115.09,344.92" fill="#3e26a8"/><polygon points="311.91,345.39 322.83,343.45 315.86,342.25 304.94,344.15" fill="#402bb7"/><polygon points="139.96,347.13 150.88,345.25 143.9,343.21 132.99,345.09" fill="#3e26a8"/><polygon points="157.85,347.29 168.77,345.41 161.8,343.37 150.88,345.25" fill="#3e26a8"/><polygon points="175.75,347.45 186.66,345.57 179.69,343.53 168.77,345.41" fill="#3e26a8"/><polygon points="193.64,347.61 204.56,345.73 197.58,343.69 186.66,345.57" fill="#3e26a8"/><polygon points="211.53,347.77 222.45,345.89 215.48,343.85 204.56,345.73" fill="#3e26a9"/><polygon points="229.42,347.91 240.34,346.03 233.37,344.01 222.45,345.89" fill="#3e26a9"/><polygon points="247.32,348.03 258.23,346.15 251.26,344.15 240.34,346.03" fill="#3e27a9"/><polygon points="265.21,348.11 276.13,346.22 269.15,344.26 258.23,346.15" fill="#3e27aa"/><polygon points="283.1,347.96 294.02,346.06 287.05,344.33 276.13,346.22" fill="#3f28ae"/><polygon points="93.26,348.68 104.17,346.8 97.2,344.76 86.28,346.64" fill="#3e26a8"/><polygon points="111.15,348.84 122.07,346.96 115.09,344.92 104.17,346.8" fill="#3e26a8"/><polygon points="300.99,347.34 311.91,345.39 304.94,344.15 294.02,346.06" fill="#402bb6"/><polygon points="129.04,349.01 139.96,347.13 132.99,345.09 122.07,346.96" fill="#3e26a8"/><polygon points="146.93,349.17 157.85,347.29 150.88,345.25 139.96,347.13" fill="#3e26a8"/><polygon points="164.83,349.33 175.75,347.45 168.77,345.41 157.85,347.29" fill="#3e26a8"/><polygon points="182.72,349.49 193.64,347.61 186.66,345.57 175.75,347.45" fill="#3e26a8"/><polygon points="318.89,345.24 329.81,343.2 322.83,343.45 311.91,345.39" fill="#4433cd"/><polygon points="200.61,349.65 211.53,347.77 204.56,345.73 193.64,347.61" fill="#3e26a9"/><polygon points="218.5,349.79 229.42,347.91 222.45,345.89 211.53,347.77" fill="#3e26a9"/><polygon points="236.4,349.91 247.32,348.03 240.34,346.03 229.42,347.91" fill="#3e27a9"/><polygon points="254.29,349.99 265.21,348.11 258.23,346.15 247.32,348.03" fill="#3e27aa"/><polygon points="272.18,349.87 283.1,347.96 276.13,346.22 265.21,348.11" fill="#3f28ad"/><polygon points="82.34,350.56 93.26,348.68 86.28,346.64 75.36,348.52" fill="#3e26a8"/><polygon points="100.23,350.72 111.15,348.84 104.17,346.8 93.26,348.68" fill="#3e26a8"/><polygon points="290.08,349.29 300.99,347.34 294.02,346.06 283.1,347.96" fill="#402ab5"/><polygon points="118.12,350.88 129.04,349.01 122.07,346.96 111.15,348.84" fill="#3e26a8"/><polygon points="136.02,351.05 146.93,349.17 139.96,347.13 129.04,349.01" fill="#3e26a8"/><polygon points="153.91,351.21 164.83,349.33 157.85,347.29 146.93,349.17" fill="#3e26a8"/><polygon points="171.8,351.37 182.72,349.49 175.75,347.45 164.83,349.33" fill="#3e26a8"/><polygon points="307.97,347.31 318.89,345.24 311.91,345.39 300.99,347.34" fill="#4433cb"/><polygon points="189.69,351.53 200.61,349.65 193.64,347.61 182.72,349.49" fill="#3e26a9"/><polygon points="207.59,351.67 218.5,349.79 211.53,347.77 200.61,349.65" fill="#3e26a9"/><polygon points="225.48,351.8 236.4,349.91 229.42,347.91 218.5,349.79" fill="#3e27a9"/><polygon points="243.37,351.88 254.29,349.99 247.32,348.03 236.4,349.91" fill="#3e27aa"/><polygon points="261.26,351.78 272.18,349.87 265.21,348.11 254.29,349.99" fill="#3f28ad"/><polygon points="89.31,352.6 100.23,350.72 93.26,348.68 82.34,350.56" fill="#3e26a8"/><polygon points="279.16,351.24 290.08,349.29 283.1,347.96 272.18,349.87" fill="#402ab5"/><polygon points="107.2,352.76 118.12,350.88 111.15,348.84 100.23,350.72" fill="#3e26a8"/><polygon points="125.1,352.92 136.02,351.05 129.04,349.01 118.12,350.88" fill="#3e26a8"/><polygon points="142.99,353.09 153.91,351.21 146.93,349.17 136.02,351.05" fill="#3e26a8"/><polygon points="160.88,353.25 171.8,351.37 164.83,349.33 153.91,351.21" fill="#3e26a8"/><polygon points="297.05,349.38 307.97,347.31 300.99,347.34 290.08,349.29" fill="#4332c9"/><polygon points="178.77,353.41 189.69,351.53 182.72,349.49 171.8,351.37" fill="#3e26a8"/><polygon points="196.67,353.55 207.59,351.67 200.61,349.65 189.69,351.53" fill="#3e26a9"/><polygon points="325.86,337.51 336.78,335.02 329.81,343.2 318.89,345.24" fill="#4563fd"/><polygon points="214.56,353.68 225.48,351.8 218.5,349.79 207.59,351.67" fill="#3e27a9"/><polygon points="232.45,353.78 243.37,351.88 236.4,349.91 225.48,351.8" fill="#3e27aa"/><polygon points="250.35,353.69 261.26,351.78 254.29,349.99 243.37,351.88" fill="#3e28ad"/><polygon points="268.24,353.19 279.16,351.24 272.18,349.87 261.26,351.78" fill="#402ab4"/><polygon points="96.28,354.64 107.2,352.76 100.23,350.72 89.31,352.6" fill="#3e26a8"/><polygon points="114.18,354.8 125.1,352.92 118.12,350.88 107.2,352.76" fill="#3e26a8"/><polygon points="132.07,354.97 142.99,353.09 136.02,351.05 125.1,352.92" fill="#3e26a8"/><polygon points="286.13,351.44 297.05,349.38 290.08,349.29 279.16,351.24" fill="#4331c7"/><polygon points="149.96,355.13 160.88,353.25 153.91,351.21 142.99,353.09" fill="#3e26a8"/><polygon points="167.86,355.29 178.77,353.41 171.8,351.37 160.88,353.25" fill="#3e26a8"/><polygon points="314.94,340.11 325.86,337.51 318.89,345.24 307.97,347.31" fill="#4660fb"/><polygon points="185.75,355.44 196.67,353.55 189.69,351.53 178.77,353.41" fill="#3e26a9"/><polygon points="203.64,355.57 214.56,353.68 207.59,351.67 196.67,353.55" fill="#3e27a9"/><polygon points="221.53,355.67 232.45,353.78 225.48,351.8 214.56,353.68" fill="#3e27aa"/><polygon points="239.43,355.6 250.35,353.69 243.37,351.88 232.45,353.78" fill="#3e28ac"/><polygon points="257.32,355.15 268.24,353.19 261.26,351.78 250.35,353.69" fill="#402ab3"/><polygon points="103.26,356.68 114.18,354.8 107.2,352.76 96.28,354.64" fill="#3e26a8"/><polygon points="121.15,356.84 132.07,354.97 125.1,352.92 114.18,354.8" fill="#3e26a8"/><polygon points="275.21,353.52 286.13,351.44 279.16,351.24 268.24,353.19" fill="#4330c5"/><polygon points="139.04,357.01 149.96,355.13 142.99,353.09 132.07,354.97" fill="#3e26a8"/><polygon points="304.02,342.72 314.94,340.11 307.97,347.31 297.05,349.38" fill="#475cfa"/><polygon points="156.94,357.17 167.86,355.29 160.88,353.25 149.96,355.13" fill="#3e26a8"/><polygon points="174.83,357.32 185.75,355.44 178.77,353.41 167.86,355.29" fill="#3e26a9"/><polygon points="192.72,357.46 203.64,355.57 196.67,353.55 185.75,355.44" fill="#3e27a9"/><polygon points="210.62,357.56 221.53,355.67 214.56,353.68 203.64,355.57" fill="#3e27aa"/><polygon points="228.51,357.51 239.43,355.6 232.45,353.78 221.53,355.67" fill="#3e27ac"/><polygon points="246.4,357.12 257.32,355.15 250.35,353.69 239.43,355.6" fill="#3f29b2"/><polygon points="110.23,358.72 121.15,356.84 114.18,354.8 103.26,356.68" fill="#3e26a8"/><polygon points="264.29,355.61 275.21,353.52 268.24,353.19 257.32,355.15" fill="#4230c3"/><polygon points="293.1,345.3 304.02,342.72 297.05,349.38 286.13,351.44" fill="#4758f8"/><polygon points="128.13,358.89 139.04,357.01 132.07,354.97 121.15,356.84" fill="#3e26a8"/><polygon points="146.02,359.05 156.94,357.17 149.96,355.13 139.04,357.01" fill="#3e26a8"/><polygon points="163.91,359.2 174.83,357.32 167.86,355.29 156.94,357.17" fill="#3e26a9"/><polygon points="181.8,359.34 192.72,357.46 185.75,355.44 174.83,357.32" fill="#3e26a9"/><polygon points="199.7,359.45 210.62,357.56 203.64,355.57 192.72,357.46" fill="#3e27a9"/><polygon points="217.59,359.43 228.51,357.51 221.53,355.67 210.62,357.56" fill="#3e27ab"/><polygon points="235.48,359.09 246.4,357.12 239.43,355.6 228.51,357.51" fill="#3f29b1"/><polygon points="253.37,357.71 264.29,355.61 257.32,355.15 246.4,357.12" fill="#422fc1"/><polygon points="282.19,347.91 293.1,345.3 286.13,351.44 275.21,353.52" fill="#4755f6"/><polygon points="117.21,360.76 128.13,358.89 121.15,356.84 110.23,358.72" fill="#3e26a8"/><polygon points="135.1,360.93 146.02,359.05 139.04,357.01 128.13,358.89" fill="#3e26a8"/><polygon points="152.99,361.08 163.91,359.2 156.94,357.17 146.02,359.05" fill="#3e26a8"/><polygon points="170.88,361.23 181.8,359.34 174.83,357.32 163.91,359.2" fill="#3e26a9"/><polygon points="188.78,361.35 199.7,359.45 192.72,357.46 181.8,359.34" fill="#3e27a9"/><polygon points="206.67,361.35 217.59,359.43 210.62,357.56 199.7,359.45" fill="#3e27ab"/><polygon points="224.56,361.06 235.48,359.09 228.51,357.51 217.59,359.43" fill="#3f29b0"/><polygon points="271.27,350.6 282.19,347.91 275.21,353.52 264.29,355.61" fill="#4851f3"/><polygon points="242.46,359.84 253.37,357.71 246.4,357.12 235.48,359.09" fill="#412ebe"/><polygon points="124.18,362.81 135.1,360.93 128.13,358.89 117.21,360.76" fill="#3e26a8"/><polygon points="142.07,362.96 152.99,361.08 146.02,359.05 135.1,360.93" fill="#3e26a8"/><polygon points="159.97,363.11 170.88,361.23 163.91,359.2 152.99,361.08" fill="#3e26a9"/><polygon points="177.86,363.24 188.78,361.35 181.8,359.34 170.88,361.23" fill="#3e27a9"/><polygon points="195.75,363.27 206.67,361.35 199.7,359.45 188.78,361.35" fill="#3e27ab"/><polygon points="213.64,363.03 224.56,361.06 217.59,359.43 206.67,361.35" fill="#3f28af"/><polygon points="260.35,353.32 271.27,350.6 264.29,355.61 253.37,357.71" fill="#484cf0"/><polygon points="231.54,361.96 242.46,359.84 235.48,359.09 224.56,361.06" fill="#412dbc"/><polygon points="131.15,364.85 142.07,362.96 135.1,360.93 124.18,362.81" fill="#3e26a8"/><polygon points="149.05,365 159.97,363.11 152.99,361.08 142.07,362.96" fill="#3e26a9"/><polygon points="166.94,365.13 177.86,363.24 170.88,361.23 159.97,363.11" fill="#3e26a9"/><polygon points="184.83,365.18 195.75,363.27 188.78,361.35 177.86,363.24" fill="#3e27aa"/><polygon points="202.73,365.01 213.64,363.03 206.67,361.35 195.75,363.27" fill="#3f28ae"/><polygon points="249.43,356.15 260.35,353.32 253.37,357.71 242.46,359.84" fill="#4747eb"/><polygon points="220.62,364.1 231.54,361.96 224.56,361.06 213.64,363.03" fill="#412cb9"/><polygon points="332.83,286.38 343.75,281.41 336.78,335.02 325.86,337.51" fill="#f5ea23"/><polygon points="138.13,366.89 149.05,365 142.07,362.96 131.15,364.85" fill="#3e26a8"/><polygon points="156.02,367.03 166.94,365.13 159.97,363.11 149.05,365" fill="#3e26a9"/><polygon points="173.91,367.1 184.83,365.18 177.86,363.24 166.94,365.13" fill="#3e27aa"/><polygon points="238.51,358.94 249.43,356.15 242.46,359.84 231.54,361.96" fill="#4743e7"/><polygon points="191.81,367 202.73,365.01 195.75,363.27 184.83,365.18" fill="#3e28ad"/><polygon points="321.92,291.88 332.83,286.38 325.86,337.51 314.94,340.11" fill="#fad52d"/><polygon points="209.7,366.25 220.62,364.1 213.64,363.03 202.73,365.01" fill="#402bb6"/><polygon points="311,297.41 321.92,291.88 314.94,340.11 304.02,342.72" fill="#fec239"/><polygon points="145.1,368.92 156.02,367.03 149.05,365 138.13,366.89" fill="#3e26a8"/><polygon points="227.59,361.8 238.51,358.94 231.54,361.96 220.62,364.1" fill="#463ee1"/><polygon points="163,369.03 173.91,367.1 166.94,365.13 156.02,367.03" fill="#3e27a9"/><polygon points="180.89,368.98 191.81,367 184.83,365.18 173.91,367.1" fill="#3e27ab"/><polygon points="198.78,368.4 209.7,366.25 202.73,365.01 191.81,367" fill="#402ab4"/><polygon points="300.08,302.76 311,297.41 304.02,342.72 293.1,345.3" fill="#f0ba36"/><polygon points="216.67,364.69 227.59,361.8 220.62,364.1 209.7,366.25" fill="#4539d9"/><polygon points="152.08,370.95 163,369.03 156.02,367.03 145.1,368.92" fill="#3e26a9"/><polygon points="169.97,370.97 180.89,368.98 173.91,367.1 163,369.03" fill="#3e27aa"/><polygon points="289.16,308.35 300.08,302.76 293.1,345.3 282.19,347.91" fill="#ccc028"/><polygon points="187.86,370.56 198.78,368.4 191.81,367 180.89,368.98" fill="#3f29b1"/><polygon points="278.24,314.25 289.16,308.35 282.19,347.91 271.27,350.6" fill="#97ca48"/><polygon points="205.75,367.61 216.67,364.69 209.7,366.25 198.78,368.4" fill="#4435d0"/><polygon points="159.05,372.96 169.97,370.97 163,369.03 152.08,370.95" fill="#3e27a9"/><polygon points="176.94,372.73 187.86,370.56 180.89,368.98 169.97,370.97" fill="#3f28ad"/><polygon points="267.32,320.37 278.24,314.25 271.27,350.6 260.35,353.32" fill="#5fcd73"/><polygon points="194.84,370.53 205.75,367.61 198.78,368.4 187.86,370.56" fill="#4331c6"/><polygon points="256.4,326.98 267.32,320.37 260.35,353.32 249.43,356.15" fill="#33c79d"/><polygon points="166.02,374.91 176.94,372.73 169.97,370.97 159.05,372.96" fill="#3e27aa"/><polygon points="245.48,333.4 256.4,326.98 249.43,356.15 238.51,358.94" fill="#0ebdbb"/><polygon points="183.92,373.52 194.84,370.53 187.86,370.56 176.94,372.73" fill="#412cba"/><polygon points="234.57,340.23 245.48,333.4 238.51,358.94 227.59,361.8" fill="#13b0d7"/><polygon points="223.65,347.16 234.57,340.23 227.59,361.8 216.67,364.69" fill="#259ce7"/><polygon points="173,376.53 183.92,373.52 176.94,372.73 166.02,374.91" fill="#3f28af"/><polygon points="212.73,354.22 223.65,347.16 216.67,364.69 205.75,367.61" fill="#2e84f8"/><polygon points="201.81,361.35 212.73,354.22 205.75,367.61 194.84,370.53" fill="#4367fd"/><polygon points="190.89,368.74 201.81,361.35 194.84,370.53 183.92,373.52" fill="#484bef"/><polygon points="179.97,376.28 190.89,368.74 183.92,373.52 173,376.53" fill="#4331c6"/></g>
<g stroke-linecap="butt">
<line x1="589.6" y1="381.1" x2="455.7" y2="341.9" stroke="#d8d8d8" stroke-width="0.6"/>
<line x1="455.7" y1="341.9" x2="455.7" y2="257.1" stroke="#d8d8d8" stroke-width="0.6"/>
<line x1="624.54" y1="375.09" x2="490.64" y2="335.89" stroke="#d8d8d8" stroke-width="0.6"/>
<line x1="490.64" y1="335.89" x2="490.64" y2="251.09" stroke="#d8d8d8" stroke-width="0.6"/>
<line x1="659.48" y1="369.08" x2="525.58" y2="329.88" stroke="#d8d8d8" stroke-width="0.6"/>
<line x1="525.58" y1="329.88" x2="525.58" y2="245.08" stroke="#d8d8d8" stroke-width="0.6"/>
<line x1="694.42" y1="363.07" x2="560.52" y2="323.87" stroke="#d8d8d8" stroke-width="0.6"/>
<line x1="560.52" y1="323.87" x2="560.52" y2="239.07" stroke="#d8d8d8" stroke-width="0.6"/>
<line x1="729.36" y1="357.06" x2="595.46" y2="317.86" stroke="#d8d8d8" stroke-width="0.6"/>
<line x1="595.46" y1="317.86" x2="595.46" y2="233.06" stroke="#d8d8d8" stroke-width="0.6"/>
<line x1="764.3" y1="351.05" x2="630.4" y2="311.85" stroke="#d8d8d8" stroke-width="0.6"/>
<line x1="630.4" y1="311.85" x2="630.4" y2="227.05" stroke="#d8d8d8" stroke-width="0.6"/>
<line x1="589.6" y1="381.1" x2="764.3" y2="351.05" stroke="#d8d8d8" stroke-width="0.6"/>
<line x1="764.3" y1="351.05" x2="764.3" y2="266.25" stroke="#d8d8d8" stroke-width="0.6"/>
<line x1="544.97" y1="368.03" x2="719.67" y2="337.98" stroke="#d8d8d8" stroke-width="0.6"/>
<line x1="719.67" y1="337.98" x2="719.67" y2="253.18" stroke="#d8d8d8" stroke-width="0.6"/>
<line x1="500.33" y1="354.97" x2="675.03" y2="324.92" stroke="#d8d8d8" stroke-width="0.6"/>
<line x1="675.03" y1="324.92" x2="675.03" y2="240.12" stroke="#d8d8d8" stroke-width="0.6"/>
<line x1="455.7" y1="341.9" x2="630.4" y2="311.85" stroke="#d8d8d8" stroke-width="0.6"/>
<line x1="630.4" y1="311.85" x2="630.4" y2="227.05" stroke="#d8d8d8" stroke-width="0.6"/>
<line x1="455.7" y1="341.9" x2="630.4" y2="311.85" stroke="#d8d8d8" stroke-width="0.6"/>
<line x1="630.4" y1="311.85" x2="764.3" y2="351.05" stroke="#d8d8d8" stroke-width="0.6"/>
<line x1="455.7" y1="313.63" x2="630.4" y2="283.58" stroke="#d8d8d8" stroke-width="0.6"/>
<line x1="630.4" y1="283.58" x2="764.3" y2="322.78" stroke="#d8d8d8" stroke-width="0.6"/>
<line x1="455.7" y1="285.37" x2="630.4" y2="255.32" stroke="#d8d8d8" stroke-width="0.6"/>
<line x1="630.4" y1="255.32" x2="764.3" y2="294.52" stroke="#d8d8d8" stroke-width="0.6"/>
<line x1="455.7" y1="257.1" x2="630.4" y2="227.05" stroke="#d8d8d8" stroke-width="0.6"/>
<line x1="630.4" y1="227.05" x2="764.3" y2="266.25" stroke="#d8d8d8" stroke-width="0.6"/>
</g>
<line x1="589.6" y1="381.1" x2="764.3" y2="351.05" stroke="#262626" stroke-width="0.85"/>
<line x1="589.6" y1="381.1" x2="455.7" y2="341.9" stroke="#262626" stroke-width="0.85"/>
<line x1="455.7" y1="341.9" x2="455.7" y2="257.1" stroke="#262626" stroke-width="0.85"/>
<line x1="589.6" y1="381.1" x2="593.92" y2="382.36" stroke="#262626" stroke-width="0.95"/>
<line x1="624.54" y1="375.09" x2="628.86" y2="376.35" stroke="#262626" stroke-width="0.95"/>
<line x1="659.48" y1="369.08" x2="663.8" y2="370.34" stroke="#262626" stroke-width="0.95"/>
<line x1="694.42" y1="363.07" x2="698.74" y2="364.33" stroke="#262626" stroke-width="0.95"/>
<line x1="729.36" y1="357.06" x2="733.68" y2="358.32" stroke="#262626" stroke-width="0.95"/>
<line x1="764.3" y1="351.05" x2="768.62" y2="352.31" stroke="#262626" stroke-width="0.95"/>
<line x1="589.6" y1="381.1" x2="585.61" y2="381.79" stroke="#262626" stroke-width="0.95"/>
<line x1="544.97" y1="368.03" x2="540.98" y2="368.72" stroke="#262626" stroke-width="0.95"/>
<line x1="500.33" y1="354.97" x2="496.34" y2="355.65" stroke="#262626" stroke-width="0.95"/>
<line x1="455.7" y1="341.9" x2="451.71" y2="342.59" stroke="#262626" stroke-width="0.95"/>
<line x1="455.7" y1="341.9" x2="451.38" y2="340.64" stroke="#262626" stroke-width="0.95"/>
<line x1="455.7" y1="313.63" x2="451.38" y2="312.37" stroke="#262626" stroke-width="0.95"/>
<line x1="455.7" y1="285.37" x2="451.38" y2="284.1" stroke="#262626" stroke-width="0.95"/>
<line x1="455.7" y1="257.1" x2="451.38" y2="255.84" stroke="#262626" stroke-width="0.95"/>
<g font-size="9.15" fill="#262626" stroke="#262626" stroke-width="0.2"><text x="597.2" y="392.5">0</text><text x="632.14" y="387.29">0.1</text><text x="667.08" y="381.28">0.2</text><text x="702.02" y="375.27">0.3</text><text x="736.96" y="369.26">0.4</text><text x="771.9" y="363.25">0.5</text><text x="581.3" y="391.9" text-anchor="end">0</text><text x="536.67" y="379.33" text-anchor="end">0.2</text><text x="492.03" y="366.27" text-anchor="end">0.4</text><text x="447.4" y="353.2" text-anchor="end">0.6</text><text x="447.3" y="344.2" text-anchor="end">0</text><text x="447.3" y="315.93" text-anchor="end">0.005</text><text x="447.3" y="287.67" text-anchor="end">0.01</text><text x="447.3" y="259.4" text-anchor="end">0.015</text></g>
<g font-size="10.1" fill="#262626" stroke="#262626" stroke-width="0.2"><text x="664.2" y="400.8" text-anchor="middle">x</text><text x="525" y="397" text-anchor="middle">y</text><text transform="translate(414.7,300.5) rotate(-90)" text-anchor="middle" letter-spacing="0.1"><tspan font-size="7" font-weight="bold" dy="-1.2">|</tspan><tspan dy="1.2">u</tspan><tspan dy="5.2" font-size="8.6">6</tspan><tspan dy="-5.2">-u</tspan><tspan dy="5.2" font-size="8.6">exact</tspan><tspan dy="-6.4" font-size="7" font-weight="bold">|</tspan></text></g>
<text x="609.6" y="222.5" text-anchor="middle" font-size="10.1" font-weight="bold" fill="#000" stroke="#000" stroke-width="0.15" style="white-space:pre">Absolute error for m=32,  <tspan font-style="italic" font-family="'Liberation Serif',serif" font-size="13" dx="-0.3">α</tspan><tspan dx="0.5">=1</tspan></text>
<g stroke="#000" stroke-width="0.62" stroke-linejoin="round"><polygon points="649.76,321.32 655.22,320.38 651.73,319.36 646.27,320.3" fill="#3e26a8"/><polygon points="644.3,322.26 649.76,321.32 646.27,320.3 640.81,321.24" fill="#3e26a8"/><polygon points="653.25,322.34 658.7,321.4 655.22,320.38 649.76,321.32" fill="#3e26a8"/><polygon points="638.84,323.2 644.3,322.26 640.81,321.24 635.35,322.18" fill="#3e26a8"/><polygon points="647.79,323.28 653.25,322.34 649.76,321.32 644.3,322.26" fill="#3e26a8"/><polygon points="656.73,323.36 662.19,322.43 658.7,321.4 653.25,322.34" fill="#3e26a8"/><polygon points="633.38,324.14 638.84,323.2 635.35,322.18 629.89,323.12" fill="#3e26a8"/><polygon points="642.33,324.22 647.79,323.28 644.3,322.26 638.84,323.2" fill="#3e26a8"/><polygon points="651.27,324.3 656.73,323.36 653.25,322.34 647.79,323.28" fill="#3e26a8"/><polygon points="660.22,324.39 665.68,323.45 662.19,322.43 656.73,323.36" fill="#3e26a8"/><polygon points="627.92,325.08 633.38,324.14 629.89,323.12 624.43,324.06" fill="#3e26a8"/><polygon points="636.87,325.16 642.33,324.22 638.84,323.2 633.38,324.14" fill="#3e26a8"/><polygon points="645.81,325.24 651.27,324.3 647.79,323.28 642.33,324.22" fill="#3e26a8"/><polygon points="654.76,325.32 660.22,324.39 656.73,323.36 651.27,324.3" fill="#3e26a8"/><polygon points="663.71,325.41 669.17,324.47 665.68,323.45 660.22,324.39" fill="#3e26a8"/><polygon points="622.46,326.02 627.92,325.08 624.43,324.06 618.97,325" fill="#3e26a8"/><polygon points="631.41,326.1 636.87,325.16 633.38,324.14 627.92,325.08" fill="#3e26a8"/><polygon points="640.35,326.18 645.81,325.24 642.33,324.22 636.87,325.16" fill="#3e26a8"/><polygon points="649.3,326.26 654.76,325.32 651.27,324.3 645.81,325.24" fill="#3e26a8"/><polygon points="658.25,326.35 663.71,325.41 660.22,324.39 654.76,325.32" fill="#3e26a8"/><polygon points="667.19,326.43 672.65,325.49 669.17,324.47 663.71,325.41" fill="#3e26a8"/><polygon points="617,326.96 622.46,326.02 618.97,325 613.51,325.94" fill="#3e26a8"/><polygon points="625.95,327.04 631.41,326.1 627.92,325.08 622.46,326.02" fill="#3e26a8"/><polygon points="634.89,327.12 640.35,326.18 636.87,325.16 631.41,326.1" fill="#3e26a8"/><polygon points="643.84,327.2 649.3,326.26 645.81,325.24 640.35,326.18" fill="#3e26a8"/><polygon points="652.79,327.28 658.25,326.35 654.76,325.32 649.3,326.26" fill="#3e26a8"/><polygon points="661.73,327.37 667.19,326.43 663.71,325.41 658.25,326.35" fill="#3e26a8"/><polygon points="670.68,327.45 676.14,326.51 672.65,325.49 667.19,326.43" fill="#3e26a8"/><polygon points="611.54,327.9 617,326.96 613.51,325.94 608.06,326.88" fill="#3e26a8"/><polygon points="620.49,327.98 625.95,327.04 622.46,326.02 617,326.96" fill="#3e26a8"/><polygon points="629.44,328.06 634.89,327.12 631.41,326.1 625.95,327.04" fill="#3e26a8"/><polygon points="638.38,328.14 643.84,327.2 640.35,326.18 634.89,327.12" fill="#3e26a8"/><polygon points="647.33,328.22 652.79,327.28 649.3,326.26 643.84,327.2" fill="#3e26a8"/><polygon points="656.27,328.31 661.73,327.37 658.25,326.35 652.79,327.28" fill="#3e26a8"/><polygon points="665.22,328.39 670.68,327.45 667.19,326.43 661.73,327.37" fill="#3e26a8"/><polygon points="674.17,328.47 679.63,327.53 676.14,326.51 670.68,327.45" fill="#3e26a8"/><polygon points="606.08,328.84 611.54,327.9 608.06,326.88 602.6,327.81" fill="#3e26a8"/><polygon points="615.03,328.92 620.49,327.98 617,326.96 611.54,327.9" fill="#3e26a8"/><polygon points="623.98,329 629.44,328.06 625.95,327.04 620.49,327.98" fill="#3e26a8"/><polygon points="632.92,329.08 638.38,328.14 634.89,327.12 629.44,328.06" fill="#3e26a8"/><polygon points="641.87,329.16 647.33,328.22 643.84,327.2 638.38,328.14" fill="#3e26a8"/><polygon points="650.81,329.24 656.27,328.31 652.79,327.28 647.33,328.22" fill="#3e26a8"/><polygon points="659.76,329.33 665.22,328.39 661.73,327.37 656.27,328.31" fill="#3e26a8"/><polygon points="668.71,329.41 674.17,328.47 670.68,327.45 665.22,328.39" fill="#3e26a8"/><polygon points="677.65,329.49 683.11,328.55 679.63,327.53 674.17,328.47" fill="#3e26a8"/><polygon points="600.62,329.77 606.08,328.84 602.6,327.81 597.14,328.75" fill="#3e26a8"/><polygon points="609.57,329.86 615.03,328.92 611.54,327.9 606.08,328.84" fill="#3e26a8"/><polygon points="618.52,329.94 623.98,329 620.49,327.98 615.03,328.92" fill="#3e26a8"/><polygon points="627.46,330.02 632.92,329.08 629.44,328.06 623.98,329" fill="#3e26a8"/><polygon points="636.41,330.1 641.87,329.16 638.38,328.14 632.92,329.08" fill="#3e26a8"/><polygon points="645.36,330.18 650.81,329.24 647.33,328.22 641.87,329.16" fill="#3e26a8"/><polygon points="654.3,330.27 659.76,329.33 656.27,328.31 650.81,329.24" fill="#3e26a8"/><polygon points="663.25,330.35 668.71,329.41 665.22,328.39 659.76,329.33" fill="#3e26a8"/><polygon points="672.19,330.43 677.65,329.49 674.17,328.47 668.71,329.41" fill="#3e26a8"/><polygon points="681.14,330.51 686.6,329.57 683.11,328.55 677.65,329.49" fill="#3e26a8"/><polygon points="595.16,330.71 600.62,329.77 597.14,328.75 591.68,329.69" fill="#3e26a8"/><polygon points="604.11,330.8 609.57,329.86 606.08,328.84 600.62,329.77" fill="#3e26a8"/><polygon points="613.06,330.88 618.52,329.94 615.03,328.92 609.57,329.86" fill="#3e26a8"/><polygon points="622,330.96 627.46,330.02 623.98,329 618.52,329.94" fill="#3e26a8"/><polygon points="630.95,331.04 636.41,330.1 632.92,329.08 627.46,330.02" fill="#3e26a8"/><polygon points="639.9,331.12 645.36,330.18 641.87,329.16 636.41,330.1" fill="#3e26a8"/><polygon points="648.84,331.2 654.3,330.27 650.81,329.24 645.36,330.18" fill="#3e26a8"/><polygon points="657.79,331.29 663.25,330.35 659.76,329.33 654.3,330.27" fill="#3e26a8"/><polygon points="666.74,331.37 672.19,330.43 668.71,329.41 663.25,330.35" fill="#3e26a8"/><polygon points="675.68,331.45 681.14,330.51 677.65,329.49 672.19,330.43" fill="#3e26a8"/><polygon points="684.63,331.53 690.09,330.59 686.6,329.57 681.14,330.51" fill="#3e26a8"/><polygon points="589.7,331.65 595.16,330.71 591.68,329.69 586.22,330.63" fill="#3e26a8"/><polygon points="598.65,331.73 604.11,330.8 600.62,329.77 595.16,330.71" fill="#3e26a8"/><polygon points="607.6,331.82 613.06,330.88 609.57,329.86 604.11,330.8" fill="#3e26a8"/><polygon points="616.54,331.9 622,330.96 618.52,329.94 613.06,330.88" fill="#3e26a8"/><polygon points="625.49,331.98 630.95,331.04 627.46,330.02 622,330.96" fill="#3e26a8"/><polygon points="634.44,332.06 639.9,331.12 636.41,330.1 630.95,331.04" fill="#3e26a8"/><polygon points="643.38,332.14 648.84,331.2 645.36,330.18 639.9,331.12" fill="#3e26a8"/><polygon points="652.33,332.23 657.79,331.29 654.3,330.27 648.84,331.2" fill="#3e26a8"/><polygon points="661.28,332.31 666.74,331.37 663.25,330.35 657.79,331.29" fill="#3e26a8"/><polygon points="670.22,332.39 675.68,331.45 672.19,330.43 666.74,331.37" fill="#3e26a8"/><polygon points="679.17,332.47 684.63,331.53 681.14,330.51 675.68,331.45" fill="#3e26a8"/><polygon points="688.11,332.55 693.57,331.61 690.09,330.59 684.63,331.53" fill="#3e26a8"/><polygon points="584.25,332.59 589.7,331.65 586.22,330.63 580.76,331.57" fill="#3e26a8"/><polygon points="593.19,332.67 598.65,331.73 595.16,330.71 589.7,331.65" fill="#3e26a8"/><polygon points="602.14,332.76 607.6,331.82 604.11,330.8 598.65,331.73" fill="#3e26a8"/><polygon points="611.08,332.84 616.54,331.9 613.06,330.88 607.6,331.82" fill="#3e26a8"/><polygon points="620.03,332.92 625.49,331.98 622,330.96 616.54,331.9" fill="#3e26a8"/><polygon points="628.98,333 634.44,332.06 630.95,331.04 625.49,331.98" fill="#3e26a8"/><polygon points="637.92,333.08 643.38,332.14 639.9,331.12 634.44,332.06" fill="#3e26a8"/><polygon points="646.87,333.16 652.33,332.23 648.84,331.2 643.38,332.14" fill="#3e26a8"/><polygon points="655.82,333.25 661.28,332.31 657.79,331.29 652.33,332.23" fill="#3e26a8"/><polygon points="664.76,333.33 670.22,332.39 666.74,331.37 661.28,332.31" fill="#3e26a8"/><polygon points="673.71,333.41 679.17,332.47 675.68,331.45 670.22,332.39" fill="#3e26a8"/><polygon points="682.66,333.49 688.11,332.55 684.63,331.53 679.17,332.47" fill="#3e26a8"/><polygon points="578.79,333.53 584.25,332.59 580.76,331.57 575.3,332.51" fill="#3e26a8"/><polygon points="691.6,333.57 697.06,332.63 693.57,331.61 688.11,332.55" fill="#3e26a8"/><polygon points="587.73,333.61 593.19,332.67 589.7,331.65 584.25,332.59" fill="#3e26a8"/><polygon points="596.68,333.69 602.14,332.76 598.65,331.73 593.19,332.67" fill="#3e26a8"/><polygon points="605.63,333.78 611.08,332.84 607.6,331.82 602.14,332.76" fill="#3e26a8"/><polygon points="614.57,333.86 620.03,332.92 616.54,331.9 611.08,332.84" fill="#3e26a8"/><polygon points="623.52,333.94 628.98,333 625.49,331.98 620.03,332.92" fill="#3e26a8"/><polygon points="632.46,334.02 637.92,333.08 634.44,332.06 628.98,333" fill="#3e26a8"/><polygon points="641.41,334.1 646.87,333.16 643.38,332.14 637.92,333.08" fill="#3e26a8"/><polygon points="650.36,334.19 655.82,333.25 652.33,332.23 646.87,333.16" fill="#3e26a8"/><polygon points="659.3,334.27 664.76,333.33 661.28,332.31 655.82,333.25" fill="#3e26a8"/><polygon points="668.25,334.35 673.71,333.41 670.22,332.39 664.76,333.33" fill="#3e26a8"/><polygon points="677.2,334.43 682.66,333.49 679.17,332.47 673.71,333.41" fill="#3e26a8"/><polygon points="573.33,334.47 578.79,333.53 575.3,332.51 569.84,333.45" fill="#3e26a8"/><polygon points="686.14,334.51 691.6,333.57 688.11,332.55 682.66,333.49" fill="#3e26a8"/><polygon points="582.27,334.55 587.73,333.61 584.25,332.59 578.79,333.53" fill="#3e26a8"/><polygon points="695.09,334.59 700.55,333.65 697.06,332.63 691.6,333.57" fill="#3e26a8"/><polygon points="591.22,334.63 596.68,333.69 593.19,332.67 587.73,333.61" fill="#3e26a8"/><polygon points="600.17,334.72 605.63,333.78 602.14,332.76 596.68,333.69" fill="#3e26a8"/><polygon points="609.11,334.8 614.57,333.86 611.08,332.84 605.63,333.78" fill="#3e26a8"/><polygon points="618.06,334.88 623.52,333.94 620.03,332.92 614.57,333.86" fill="#3e26a8"/><polygon points="627,334.96 632.46,334.02 628.98,333 623.52,333.94" fill="#3e26a8"/><polygon points="635.95,335.04 641.41,334.1 637.92,333.08 632.46,334.02" fill="#3e26a8"/><polygon points="644.9,335.12 650.36,334.19 646.87,333.16 641.41,334.1" fill="#3e26a8"/><polygon points="653.84,335.21 659.3,334.27 655.82,333.25 650.36,334.19" fill="#3e26a8"/><polygon points="662.79,335.29 668.25,334.35 664.76,333.33 659.3,334.27" fill="#3e26a8"/><polygon points="671.74,335.37 677.2,334.43 673.71,333.41 668.25,334.35" fill="#3e26a8"/><polygon points="567.87,335.41 573.33,334.47 569.84,333.45 564.38,334.39" fill="#3e26a8"/><polygon points="680.68,335.45 686.14,334.51 682.66,333.49 677.2,334.43" fill="#3e26a8"/><polygon points="576.81,335.49 582.27,334.55 578.79,333.53 573.33,334.47" fill="#3e26a8"/><polygon points="689.63,335.53 695.09,334.59 691.6,333.57 686.14,334.51" fill="#3e26a8"/><polygon points="585.76,335.57 591.22,334.63 587.73,333.61 582.27,334.55" fill="#3e26a8"/><polygon points="698.58,335.61 704.04,334.68 700.55,333.65 695.09,334.59" fill="#3e26a8"/><polygon points="594.71,335.65 600.17,334.72 596.68,333.69 591.22,334.63" fill="#3e26a8"/><polygon points="603.65,335.74 609.11,334.8 605.63,333.78 600.17,334.72" fill="#3e26a8"/><polygon points="612.6,335.82 618.06,334.88 614.57,333.86 609.11,334.8" fill="#3e26a8"/><polygon points="621.55,335.9 627,334.96 623.52,333.94 618.06,334.88" fill="#3e26a8"/><polygon points="630.49,335.98 635.95,335.04 632.46,334.02 627,334.96" fill="#3e26a8"/><polygon points="639.44,336.06 644.9,335.12 641.41,334.1 635.95,335.04" fill="#3e26a8"/><polygon points="648.38,336.15 653.84,335.21 650.36,334.19 644.9,335.12" fill="#3e26a8"/><polygon points="657.33,336.23 662.79,335.29 659.3,334.27 653.84,335.21" fill="#3e26a8"/><polygon points="666.28,336.31 671.74,335.37 668.25,334.35 662.79,335.29" fill="#3e26a8"/><polygon points="562.41,336.35 567.87,335.41 564.38,334.39 558.92,335.33" fill="#3e26a8"/><polygon points="675.22,336.39 680.68,335.45 677.2,334.43 671.74,335.37" fill="#3e26a8"/><polygon points="571.35,336.43 576.81,335.49 573.33,334.47 567.87,335.41" fill="#3e26a8"/><polygon points="684.17,336.47 689.63,335.53 686.14,334.51 680.68,335.45" fill="#3e26a8"/><polygon points="580.3,336.51 585.76,335.57 582.27,334.55 576.81,335.49" fill="#3e26a8"/><polygon points="693.12,336.55 698.58,335.61 695.09,334.59 689.63,335.53" fill="#3e26a8"/><polygon points="589.25,336.59 594.71,335.65 591.22,334.63 585.76,335.57" fill="#3e26a8"/><polygon points="702.06,336.64 707.52,335.7 704.04,334.68 698.58,335.61" fill="#3e26a8"/><polygon points="598.19,336.68 603.65,335.74 600.17,334.72 594.71,335.65" fill="#3e26a8"/><polygon points="607.14,336.76 612.6,335.82 609.11,334.8 603.65,335.74" fill="#3e26a8"/><polygon points="616.09,336.84 621.55,335.9 618.06,334.88 612.6,335.82" fill="#3e26a8"/><polygon points="625.03,336.92 630.49,335.98 627,334.96 621.55,335.9" fill="#3e26a8"/><polygon points="633.98,337 639.44,336.06 635.95,335.04 630.49,335.98" fill="#3e26a8"/><polygon points="642.93,337.08 648.38,336.15 644.9,335.12 639.44,336.06" fill="#3e26a8"/><polygon points="651.87,337.17 657.33,336.23 653.84,335.21 648.38,336.15" fill="#3e26a8"/><polygon points="660.82,337.25 666.28,336.31 662.79,335.29 657.33,336.23" fill="#3e26a8"/><polygon points="556.95,337.29 562.41,336.35 558.92,335.33 553.46,336.27" fill="#3e26a8"/><polygon points="669.76,337.33 675.22,336.39 671.74,335.37 666.28,336.31" fill="#3e26a8"/><polygon points="565.9,337.37 571.35,336.43 567.87,335.41 562.41,336.35" fill="#3e26a8"/><polygon points="678.71,337.41 684.17,336.47 680.68,335.45 675.22,336.39" fill="#3e26a8"/><polygon points="574.84,337.45 580.3,336.51 576.81,335.49 571.35,336.43" fill="#3e26a8"/><polygon points="687.66,337.49 693.12,336.55 689.63,335.53 684.17,336.47" fill="#3e26a8"/><polygon points="583.79,337.53 589.25,336.59 585.76,335.57 580.3,336.51" fill="#3e26a8"/><polygon points="696.6,337.57 702.06,336.64 698.58,335.61 693.12,336.55" fill="#3e26a8"/><polygon points="592.73,337.61 598.19,336.68 594.71,335.65 589.25,336.59" fill="#3e26a8"/><polygon points="705.55,337.66 711.01,336.72 707.52,335.7 702.06,336.64" fill="#3e26a8"/><polygon points="601.68,337.7 607.14,336.76 603.65,335.74 598.19,336.68" fill="#3e26a8"/><polygon points="610.63,337.78 616.09,336.84 612.6,335.82 607.14,336.76" fill="#3e26a8"/><polygon points="619.57,337.86 625.03,336.92 621.55,335.9 616.09,336.84" fill="#3e26a8"/><polygon points="628.52,337.94 633.98,337 630.49,335.98 625.03,336.92" fill="#3e26a8"/><polygon points="637.47,338.02 642.93,337.08 639.44,336.06 633.98,337" fill="#3e26a8"/><polygon points="646.41,338.1 651.87,337.17 648.38,336.15 642.93,337.08" fill="#3e26a8"/><polygon points="655.36,338.19 660.82,337.25 657.33,336.23 651.87,337.17" fill="#3e26a8"/><polygon points="551.49,338.23 556.95,337.29 553.46,336.27 548,337.21" fill="#3e26a8"/><polygon points="664.3,338.27 669.76,337.33 666.28,336.31 660.82,337.25" fill="#3e26a8"/><polygon points="560.44,338.31 565.9,337.37 562.41,336.35 556.95,337.29" fill="#3e26a8"/><polygon points="673.25,338.35 678.71,337.41 675.22,336.39 669.76,337.33" fill="#3e26a8"/><polygon points="569.38,338.39 574.84,337.45 571.35,336.43 565.9,337.37" fill="#3e26a8"/><polygon points="682.2,338.43 687.66,337.49 684.17,336.47 678.71,337.41" fill="#3e26a8"/><polygon points="578.33,338.47 583.79,337.53 580.3,336.51 574.84,337.45" fill="#3e26a8"/><polygon points="691.14,338.51 696.6,337.57 693.12,336.55 687.66,337.49" fill="#3e26a8"/><polygon points="587.27,338.55 592.73,337.61 589.25,336.59 583.79,337.53" fill="#3e26a8"/><polygon points="700.09,338.6 705.55,337.66 702.06,336.64 696.6,337.57" fill="#3e26a8"/><polygon points="596.22,338.64 601.68,337.7 598.19,336.68 592.73,337.61" fill="#3e26a8"/><polygon points="709.04,338.68 714.5,337.74 711.01,336.72 705.55,337.66" fill="#3e26a8"/><polygon points="605.17,338.72 610.63,337.78 607.14,336.76 601.68,337.7" fill="#3e26a8"/><polygon points="614.11,338.8 619.57,337.86 616.09,336.84 610.63,337.78" fill="#3e26a8"/><polygon points="623.06,338.88 628.52,337.94 625.03,336.92 619.57,337.86" fill="#3e26a8"/><polygon points="632.01,338.96 637.47,338.02 633.98,337 628.52,337.94" fill="#3e26a8"/><polygon points="640.95,339.04 646.41,338.1 642.93,337.08 637.47,338.02" fill="#3e26a8"/><polygon points="649.9,339.13 655.36,338.19 651.87,337.17 646.41,338.1" fill="#3e26a8"/><polygon points="546.03,339.17 551.49,338.23 548,337.21 542.54,338.14" fill="#3e26a8"/><polygon points="658.85,339.21 664.3,338.27 660.82,337.25 655.36,338.19" fill="#3e26a8"/><polygon points="554.98,339.25 560.44,338.31 556.95,337.29 551.49,338.23" fill="#3e26a8"/><polygon points="667.79,339.29 673.25,338.35 669.76,337.33 664.3,338.27" fill="#3e26a8"/><polygon points="563.92,339.33 569.38,338.39 565.9,337.37 560.44,338.31" fill="#3e26a8"/><polygon points="676.74,339.37 682.2,338.43 678.71,337.41 673.25,338.35" fill="#3e26a8"/><polygon points="572.87,339.41 578.33,338.47 574.84,337.45 569.38,338.39" fill="#3e26a8"/><polygon points="685.68,339.45 691.14,338.51 687.66,337.49 682.2,338.43" fill="#3e26a8"/><polygon points="581.82,339.49 587.27,338.55 583.79,337.53 578.33,338.47" fill="#3e26a8"/><polygon points="694.63,339.53 700.09,338.6 696.6,337.57 691.14,338.51" fill="#3e26a8"/><polygon points="590.76,339.57 596.22,338.64 592.73,337.61 587.27,338.55" fill="#3e26a8"/><polygon points="703.58,339.62 709.04,338.68 705.55,337.66 700.09,338.6" fill="#3e26a8"/><polygon points="599.71,339.66 605.17,338.72 601.68,337.7 596.22,338.64" fill="#3e26a8"/><polygon points="712.52,339.7 717.98,338.76 714.5,337.74 709.04,338.68" fill="#3e26a8"/><polygon points="608.65,339.74 614.11,338.8 610.63,337.78 605.17,338.72" fill="#3e26a8"/><polygon points="617.6,339.82 623.06,338.88 619.57,337.86 614.11,338.8" fill="#3e26a8"/><polygon points="626.55,339.9 632.01,338.96 628.52,337.94 623.06,338.88" fill="#3e26a8"/><polygon points="635.49,339.98 640.95,339.04 637.47,338.02 632.01,338.96" fill="#3e26a8"/><polygon points="644.44,340.06 649.9,339.13 646.41,338.1 640.95,339.04" fill="#3e26a8"/><polygon points="540.57,340.1 546.03,339.17 542.54,338.14 537.08,339.08" fill="#3e26a8"/><polygon points="653.39,340.15 658.85,339.21 655.36,338.19 649.9,339.13" fill="#3e26a8"/><polygon points="549.52,340.19 554.98,339.25 551.49,338.23 546.03,339.17" fill="#3e26a8"/><polygon points="662.33,340.23 667.79,339.29 664.3,338.27 658.85,339.21" fill="#3e26a8"/><polygon points="558.46,340.27 563.92,339.33 560.44,338.31 554.98,339.25" fill="#3e26a8"/><polygon points="671.28,340.31 676.74,339.37 673.25,338.35 667.79,339.29" fill="#3e26a8"/><polygon points="567.41,340.35 572.87,339.41 569.38,338.39 563.92,339.33" fill="#3e26a8"/><polygon points="680.23,340.39 685.68,339.45 682.2,338.43 676.74,339.37" fill="#3e26a8"/><polygon points="576.36,340.43 581.82,339.49 578.33,338.47 572.87,339.41" fill="#3e26a8"/><polygon points="689.17,340.47 694.63,339.53 691.14,338.51 685.68,339.45" fill="#3e26a8"/><polygon points="585.3,340.51 590.76,339.57 587.27,338.55 581.82,339.49" fill="#3e26a8"/><polygon points="698.12,340.55 703.58,339.62 700.09,338.6 694.63,339.53" fill="#3e26a8"/><polygon points="594.25,340.6 599.71,339.66 596.22,338.64 590.76,339.57" fill="#3e26a8"/><polygon points="707.06,340.64 712.52,339.7 709.04,338.68 703.58,339.62" fill="#3e26a8"/><polygon points="603.2,340.68 608.65,339.74 605.17,338.72 599.71,339.66" fill="#3e26a8"/><polygon points="716.01,340.72 721.47,339.78 717.98,338.76 712.52,339.7" fill="#3e26a8"/><polygon points="612.14,340.76 617.6,339.82 614.11,338.8 608.65,339.74" fill="#3e26a8"/><polygon points="621.09,340.84 626.55,339.9 623.06,338.88 617.6,339.82" fill="#3e26a8"/><polygon points="630.03,340.92 635.49,339.98 632.01,338.96 626.55,339.9" fill="#3e26a8"/><polygon points="638.98,341 644.44,340.06 640.95,339.04 635.49,339.98" fill="#3e26a8"/><polygon points="535.11,341.04 540.57,340.1 537.08,339.08 531.62,340.02" fill="#3e26a8"/><polygon points="647.93,341.09 653.39,340.15 649.9,339.13 644.44,340.06" fill="#3e26a8"/><polygon points="544.06,341.13 549.52,340.19 546.03,339.17 540.57,340.1" fill="#3e26a8"/><polygon points="656.87,341.17 662.33,340.23 658.85,339.21 653.39,340.15" fill="#3e26a8"/><polygon points="553,341.21 558.46,340.27 554.98,339.25 549.52,340.19" fill="#3e26a8"/><polygon points="665.82,341.25 671.28,340.31 667.79,339.29 662.33,340.23" fill="#3e26a8"/><polygon points="561.95,341.29 567.41,340.35 563.92,339.33 558.46,340.27" fill="#3e26a8"/><polygon points="674.77,341.33 680.23,340.39 676.74,339.37 671.28,340.31" fill="#3e26a8"/><polygon points="570.9,341.37 576.36,340.43 572.87,339.41 567.41,340.35" fill="#3e26a8"/><polygon points="683.71,341.41 689.17,340.47 685.68,339.45 680.23,340.39" fill="#3e26a8"/><polygon points="579.84,341.45 585.3,340.51 581.82,339.49 576.36,340.43" fill="#3e26a8"/><polygon points="692.66,341.49 698.12,340.55 694.63,339.53 689.17,340.47" fill="#3e26a8"/><polygon points="588.79,341.53 594.25,340.6 590.76,339.57 585.3,340.51" fill="#3e26a8"/><polygon points="701.6,341.57 707.06,340.64 703.58,339.62 698.12,340.55" fill="#3e26a8"/><polygon points="597.74,341.62 603.2,340.68 599.71,339.66 594.25,340.6" fill="#3e26a8"/><polygon points="710.55,341.65 716.01,340.72 712.52,339.7 707.06,340.64" fill="#3e26a8"/><polygon points="606.68,341.7 612.14,340.76 608.65,339.74 603.2,340.68" fill="#3e26a8"/><polygon points="719.5,341.73 724.96,340.79 721.47,339.78 716.01,340.72" fill="#3e26a8"/><polygon points="615.63,341.78 621.09,340.84 617.6,339.82 612.14,340.76" fill="#3e26a8"/><polygon points="624.57,341.86 630.03,340.92 626.55,339.9 621.09,340.84" fill="#3e26a8"/><polygon points="633.52,341.94 638.98,341 635.49,339.98 630.03,340.92" fill="#3e26a8"/><polygon points="529.65,341.98 535.11,341.04 531.62,340.02 526.16,340.96" fill="#3e26a8"/><polygon points="642.47,342.02 647.93,341.09 644.44,340.06 638.98,341" fill="#3e26a8"/><polygon points="538.6,342.06 544.06,341.13 540.57,340.1 535.11,341.04" fill="#3e26a8"/><polygon points="651.41,342.11 656.87,341.17 653.39,340.15 647.93,341.09" fill="#3e26a8"/><polygon points="547.54,342.15 553,341.21 549.52,340.19 544.06,341.13" fill="#3e26a8"/><polygon points="660.36,342.19 665.82,341.25 662.33,340.23 656.87,341.17" fill="#3e26a8"/><polygon points="556.49,342.23 561.95,341.29 558.46,340.27 553,341.21" fill="#3e26a8"/><polygon points="669.31,342.27 674.77,341.33 671.28,340.31 665.82,341.25" fill="#3e26a8"/><polygon points="565.44,342.31 570.9,341.37 567.41,340.35 561.95,341.29" fill="#3e26a8"/><polygon points="678.25,342.35 683.71,341.41 680.23,340.39 674.77,341.33" fill="#3e26a8"/><polygon points="574.38,342.39 579.84,341.45 576.36,340.43 570.9,341.37" fill="#3e26a8"/><polygon points="687.2,342.43 692.66,341.49 689.17,340.47 683.71,341.41" fill="#3e26a8"/><polygon points="583.33,342.47 588.79,341.53 585.3,340.51 579.84,341.45" fill="#3e26a8"/><polygon points="696.15,342.51 701.6,341.57 698.12,340.55 692.66,341.49" fill="#3e26a8"/><polygon points="592.28,342.55 597.74,341.62 594.25,340.6 588.79,341.53" fill="#3e26a8"/><polygon points="705.09,342.59 710.55,341.65 707.06,340.64 701.6,341.57" fill="#3e26a8"/><polygon points="601.22,342.64 606.68,341.7 603.2,340.68 597.74,341.62" fill="#3e26a8"/><polygon points="714.04,342.67 719.5,341.73 716.01,340.72 710.55,341.65" fill="#3e26a8"/><polygon points="610.17,342.72 615.63,341.78 612.14,340.76 606.68,341.7" fill="#3e26a8"/><polygon points="722.98,342.75 728.44,341.81 724.96,340.79 719.5,341.73" fill="#3e26a9"/><polygon points="619.12,342.8 624.57,341.86 621.09,340.84 615.63,341.78" fill="#3e26a8"/><polygon points="628.06,342.88 633.52,341.94 630.03,340.92 624.57,341.86" fill="#3e26a8"/><polygon points="524.19,342.92 529.65,341.98 526.16,340.96 520.71,341.9" fill="#3e26a8"/><polygon points="637.01,342.96 642.47,342.02 638.98,341 633.52,341.94" fill="#3e26a8"/><polygon points="533.14,343 538.6,342.06 535.11,341.04 529.65,341.98" fill="#3e26a8"/><polygon points="645.95,343.05 651.41,342.11 647.93,341.09 642.47,342.02" fill="#3e26a8"/><polygon points="542.09,343.09 547.54,342.15 544.06,341.13 538.6,342.06" fill="#3e26a8"/><polygon points="654.9,343.13 660.36,342.19 656.87,341.17 651.41,342.11" fill="#3e26a8"/><polygon points="551.03,343.17 556.49,342.23 553,341.21 547.54,342.15" fill="#3e26a8"/><polygon points="663.85,343.21 669.31,342.27 665.82,341.25 660.36,342.19" fill="#3e26a8"/><polygon points="559.98,343.25 565.44,342.31 561.95,341.29 556.49,342.23" fill="#3e26a8"/><polygon points="672.79,343.29 678.25,342.35 674.77,341.33 669.31,342.27" fill="#3e26a8"/><polygon points="568.92,343.33 574.38,342.39 570.9,341.37 565.44,342.31" fill="#3e26a8"/><polygon points="681.74,343.37 687.2,342.43 683.71,341.41 678.25,342.35" fill="#3e26a8"/><polygon points="577.87,343.41 583.33,342.47 579.84,341.45 574.38,342.39" fill="#3e26a8"/><polygon points="690.69,343.45 696.15,342.51 692.66,341.49 687.2,342.43" fill="#3e26a8"/><polygon points="586.82,343.49 592.28,342.55 588.79,341.53 583.33,342.47" fill="#3e26a8"/><polygon points="699.63,343.53 705.09,342.59 701.6,341.57 696.15,342.51" fill="#3e26a8"/><polygon points="595.76,343.58 601.22,342.64 597.74,341.62 592.28,342.55" fill="#3e26a8"/><polygon points="708.58,343.61 714.04,342.67 710.55,341.65 705.09,342.59" fill="#3e26a8"/><polygon points="604.71,343.66 610.17,342.72 606.68,341.7 601.22,342.64" fill="#3e26a8"/><polygon points="717.53,343.69 722.98,342.75 719.5,341.73 714.04,342.67" fill="#3e26a9"/><polygon points="613.66,343.74 619.12,342.8 615.63,341.78 610.17,342.72" fill="#3e26a8"/><polygon points="726.47,343.76 731.93,342.82 728.44,341.81 722.98,342.75" fill="#3e26a9"/><polygon points="622.6,343.82 628.06,342.88 624.57,341.86 619.12,342.8" fill="#3e26a8"/><polygon points="518.73,343.86 524.19,342.92 520.71,341.9 515.25,342.84" fill="#3e26a8"/><polygon points="631.55,343.9 637.01,342.96 633.52,341.94 628.06,342.88" fill="#3e26a8"/><polygon points="527.68,343.94 533.14,343 529.65,341.98 524.19,342.92" fill="#3e26a8"/><polygon points="640.5,343.98 645.95,343.05 642.47,342.02 637.01,342.96" fill="#3e26a8"/><polygon points="536.63,344.02 542.09,343.09 538.6,342.06 533.14,343" fill="#3e26a8"/><polygon points="649.44,344.07 654.9,343.13 651.41,342.11 645.95,343.05" fill="#3e26a8"/><polygon points="545.57,344.11 551.03,343.17 547.54,342.15 542.09,343.09" fill="#3e26a8"/><polygon points="658.39,344.15 663.85,343.21 660.36,342.19 654.9,343.13" fill="#3e26a8"/><polygon points="554.52,344.19 559.98,343.25 556.49,342.23 551.03,343.17" fill="#3e26a8"/><polygon points="667.33,344.23 672.79,343.29 669.31,342.27 663.85,343.21" fill="#3e26a8"/><polygon points="563.46,344.27 568.92,343.33 565.44,342.31 559.98,343.25" fill="#3e26a8"/><polygon points="676.28,344.31 681.74,343.37 678.25,342.35 672.79,343.29" fill="#3e26a8"/><polygon points="572.41,344.35 577.87,343.41 574.38,342.39 568.92,343.33" fill="#3e26a8"/><polygon points="685.23,344.39 690.69,343.45 687.2,342.43 681.74,343.37" fill="#3e26a8"/><polygon points="581.36,344.43 586.82,343.49 583.33,342.47 577.87,343.41" fill="#3e26a8"/><polygon points="694.17,344.47 699.63,343.53 696.15,342.51 690.69,343.45" fill="#3e26a8"/><polygon points="590.3,344.51 595.76,343.58 592.28,342.55 586.82,343.49" fill="#3e26a8"/><polygon points="703.12,344.55 708.58,343.61 705.09,342.59 699.63,343.53" fill="#3e26a8"/><polygon points="599.25,344.6 604.71,343.66 601.22,342.64 595.76,343.58" fill="#3e26a8"/><polygon points="712.07,344.63 717.53,343.69 714.04,342.67 708.58,343.61" fill="#3e26a9"/><polygon points="608.2,344.68 613.66,343.74 610.17,342.72 604.71,343.66" fill="#3e26a8"/><polygon points="721.01,344.7 726.47,343.76 722.98,342.75 717.53,343.69" fill="#3e26a9"/><polygon points="617.14,344.76 622.6,343.82 619.12,342.8 613.66,343.74" fill="#3e26a8"/><polygon points="729.96,344.75 735.42,343.81 731.93,342.82 726.47,343.76" fill="#3e27a9"/><polygon points="513.27,344.8 518.73,343.86 515.25,342.84 509.79,343.78" fill="#3e26a8"/><polygon points="626.09,344.84 631.55,343.9 628.06,342.88 622.6,343.82" fill="#3e26a8"/><polygon points="522.22,344.88 527.68,343.94 524.19,342.92 518.73,343.86" fill="#3e26a8"/><polygon points="635.04,344.92 640.5,343.98 637.01,342.96 631.55,343.9" fill="#3e26a8"/><polygon points="531.17,344.96 536.63,344.02 533.14,343 527.68,343.94" fill="#3e26a8"/><polygon points="643.98,345.01 649.44,344.07 645.95,343.05 640.5,343.98" fill="#3e26a8"/><polygon points="540.11,345.05 545.57,344.11 542.09,343.09 536.63,344.02" fill="#3e26a8"/><polygon points="652.93,345.09 658.39,344.15 654.9,343.13 649.44,344.07" fill="#3e26a8"/><polygon points="549.06,345.13 554.52,344.19 551.03,343.17 545.57,344.11" fill="#3e26a8"/><polygon points="661.87,345.17 667.33,344.23 663.85,343.21 658.39,344.15" fill="#3e26a8"/><polygon points="558.01,345.21 563.46,344.27 559.98,343.25 554.52,344.19" fill="#3e26a8"/><polygon points="670.82,345.25 676.28,344.31 672.79,343.29 667.33,344.23" fill="#3e26a8"/><polygon points="566.95,345.29 572.41,344.35 568.92,343.33 563.46,344.27" fill="#3e26a8"/><polygon points="679.77,345.33 685.23,344.39 681.74,343.37 676.28,344.31" fill="#3e26a8"/><polygon points="575.9,345.37 581.36,344.43 577.87,343.41 572.41,344.35" fill="#3e26a8"/><polygon points="688.71,345.41 694.17,344.47 690.69,343.45 685.23,344.39" fill="#3e26a8"/><polygon points="584.84,345.45 590.3,344.51 586.82,343.49 581.36,344.43" fill="#3e26a8"/><polygon points="697.66,345.49 703.12,344.55 699.63,343.53 694.17,344.47" fill="#3e26a8"/><polygon points="593.79,345.54 599.25,344.6 595.76,343.58 590.3,344.51" fill="#3e26a8"/><polygon points="706.61,345.57 712.07,344.63 708.58,343.61 703.12,344.55" fill="#3e26a9"/><polygon points="602.74,345.62 608.2,344.68 604.71,343.66 599.25,344.6" fill="#3e26a8"/><polygon points="715.55,345.64 721.01,344.7 717.53,343.69 712.07,344.63" fill="#3e26a9"/><polygon points="611.68,345.7 617.14,344.76 613.66,343.74 608.2,344.68" fill="#3e26a8"/><polygon points="724.5,345.69 729.96,344.75 726.47,343.76 721.01,344.7" fill="#3e27a9"/><polygon points="507.81,345.74 513.27,344.8 509.79,343.78 504.33,344.72" fill="#3e26a8"/><polygon points="620.63,345.78 626.09,344.84 622.6,343.82 617.14,344.76" fill="#3e26a8"/><polygon points="516.76,345.82 522.22,344.88 518.73,343.86 513.27,344.8" fill="#3e26a8"/><polygon points="733.45,345.72 738.9,344.78 735.42,343.81 729.96,344.75" fill="#3e27a9"/><polygon points="629.58,345.86 635.04,344.92 631.55,343.9 626.09,344.84" fill="#3e26a8"/><polygon points="525.71,345.9 531.17,344.96 527.68,343.94 522.22,344.88" fill="#3e26a8"/><polygon points="638.52,345.94 643.98,345.01 640.5,343.98 635.04,344.92" fill="#3e26a8"/><polygon points="534.65,345.98 540.11,345.05 536.63,344.02 531.17,344.96" fill="#3e26a8"/><polygon points="647.47,346.03 652.93,345.09 649.44,344.07 643.98,345.01" fill="#3e26a8"/><polygon points="543.6,346.07 549.06,345.13 545.57,344.11 540.11,345.05" fill="#3e26a8"/><polygon points="656.42,346.11 661.87,345.17 658.39,344.15 652.93,345.09" fill="#3e26a8"/><polygon points="552.55,346.15 558.01,345.21 554.52,344.19 549.06,345.13" fill="#3e26a8"/><polygon points="665.36,346.19 670.82,345.25 667.33,344.23 661.87,345.17" fill="#3e26a8"/><polygon points="561.49,346.23 566.95,345.29 563.46,344.27 558.01,345.21" fill="#3e26a8"/><polygon points="674.31,346.27 679.77,345.33 676.28,344.31 670.82,345.25" fill="#3e26a8"/><polygon points="570.44,346.31 575.9,345.37 572.41,344.35 566.95,345.29" fill="#3e26a8"/><polygon points="683.25,346.35 688.71,345.41 685.23,344.39 679.77,345.33" fill="#3e26a8"/><polygon points="579.39,346.39 584.84,345.45 581.36,344.43 575.9,345.37" fill="#3e26a8"/><polygon points="692.2,346.43 697.66,345.49 694.17,344.47 688.71,345.41" fill="#3e26a8"/><polygon points="588.33,346.47 593.79,345.54 590.3,344.51 584.84,345.45" fill="#3e26a8"/><polygon points="701.15,346.51 706.61,345.57 703.12,344.55 697.66,345.49" fill="#3e26a9"/><polygon points="597.28,346.56 602.74,345.62 599.25,344.6 593.79,345.54" fill="#3e26a8"/><polygon points="710.09,346.57 715.55,345.64 712.07,344.63 706.61,345.57" fill="#3e26a9"/><polygon points="606.22,346.64 611.68,345.7 608.2,344.68 602.74,345.62" fill="#3e26a8"/><polygon points="719.04,346.63 724.5,345.69 721.01,344.7 715.55,345.64" fill="#3e27a9"/><polygon points="502.35,346.68 507.81,345.74 504.33,344.72 498.87,345.66" fill="#3e26a8"/><polygon points="615.17,346.72 620.63,345.78 617.14,344.76 611.68,345.7" fill="#3e26a8"/><polygon points="511.3,346.76 516.76,345.82 513.27,344.8 507.81,345.74" fill="#3e26a8"/><polygon points="727.99,346.66 733.45,345.72 729.96,344.75 724.5,345.69" fill="#3e27a9"/><polygon points="624.12,346.8 629.58,345.86 626.09,344.84 620.63,345.78" fill="#3e26a8"/><polygon points="520.25,346.84 525.71,345.9 522.22,344.88 516.76,345.82" fill="#3e26a8"/><polygon points="633.06,346.88 638.52,345.94 635.04,344.92 629.58,345.86" fill="#3e26a8"/><polygon points="736.93,346.64 742.39,345.69 738.9,344.78 733.45,345.72" fill="#3e27ab"/><polygon points="529.19,346.92 534.65,345.98 531.17,344.96 525.71,345.9" fill="#3e26a8"/><polygon points="642.01,346.97 647.47,346.03 643.98,345.01 638.52,345.94" fill="#3e26a8"/><polygon points="538.14,347 543.6,346.07 540.11,345.05 534.65,345.98" fill="#3e26a8"/><polygon points="650.96,347.05 656.42,346.11 652.93,345.09 647.47,346.03" fill="#3e26a8"/><polygon points="547.09,347.09 552.55,346.15 549.06,345.13 543.6,346.07" fill="#3e26a8"/><polygon points="659.9,347.13 665.36,346.19 661.87,345.17 656.42,346.11" fill="#3e26a8"/><polygon points="556.03,347.17 561.49,346.23 558.01,345.21 552.55,346.15" fill="#3e26a8"/><polygon points="668.85,347.21 674.31,346.27 670.82,345.25 665.36,346.19" fill="#3e26a8"/><polygon points="564.98,347.25 570.44,346.31 566.95,345.29 561.49,346.23" fill="#3e26a8"/><polygon points="677.8,347.29 683.25,346.35 679.77,345.33 674.31,346.27" fill="#3e26a8"/><polygon points="573.93,347.33 579.39,346.39 575.9,345.37 570.44,346.31" fill="#3e26a8"/><polygon points="686.74,347.37 692.2,346.43 688.71,345.41 683.25,346.35" fill="#3e26a8"/><polygon points="582.87,347.41 588.33,346.47 584.84,345.45 579.39,346.39" fill="#3e26a8"/><polygon points="695.69,347.44 701.15,346.51 697.66,345.49 692.2,346.43" fill="#3e26a8"/><polygon points="591.82,347.5 597.28,346.56 593.79,345.54 588.33,346.47" fill="#3e26a8"/><polygon points="704.63,347.51 710.09,346.57 706.61,345.57 701.15,346.51" fill="#3e26a9"/><polygon points="600.76,347.58 606.22,346.64 602.74,345.62 597.28,346.56" fill="#3e26a8"/><polygon points="713.58,347.57 719.04,346.63 715.55,345.64 710.09,346.57" fill="#3e27a9"/><polygon points="496.9,347.62 502.35,346.68 498.87,345.66 493.41,346.6" fill="#3e26a8"/><polygon points="609.71,347.66 615.17,346.72 611.68,345.7 606.22,346.64" fill="#3e26a8"/><polygon points="505.84,347.7 511.3,346.76 507.81,345.74 502.35,346.68" fill="#3e26a8"/><polygon points="722.53,347.6 727.99,346.66 724.5,345.69 719.04,346.63" fill="#3e27a9"/><polygon points="618.66,347.74 624.12,346.8 620.63,345.78 615.17,346.72" fill="#3e26a8"/><polygon points="514.79,347.78 520.25,346.84 516.76,345.82 511.3,346.76" fill="#3e26a8"/><polygon points="627.6,347.82 633.06,346.88 629.58,345.86 624.12,346.8" fill="#3e26a8"/><polygon points="731.47,347.58 736.93,346.64 733.45,345.72 727.99,346.66" fill="#3e27ab"/><polygon points="523.73,347.86 529.19,346.92 525.71,345.9 520.25,346.84" fill="#3e26a8"/><polygon points="636.55,347.9 642.01,346.97 638.52,345.94 633.06,346.88" fill="#3e26a8"/><polygon points="532.68,347.94 538.14,347 534.65,345.98 529.19,346.92" fill="#3e26a8"/><polygon points="740.42,347.45 745.88,346.5 742.39,345.69 736.93,346.64" fill="#3f28ad"/><polygon points="645.5,347.99 650.96,347.05 647.47,346.03 642.01,346.97" fill="#3e26a8"/><polygon points="541.63,348.03 547.09,347.09 543.6,346.07 538.14,347" fill="#3e26a8"/><polygon points="654.44,348.07 659.9,347.13 656.42,346.11 650.96,347.05" fill="#3e26a8"/><polygon points="550.57,348.11 556.03,347.17 552.55,346.15 547.09,347.09" fill="#3e26a8"/><polygon points="663.39,348.15 668.85,347.21 665.36,346.19 659.9,347.13" fill="#3e26a8"/><polygon points="559.52,348.19 564.98,347.25 561.49,346.23 556.03,347.17" fill="#3e26a8"/><polygon points="672.34,348.23 677.8,347.29 674.31,346.27 668.85,347.21" fill="#3e26a8"/><polygon points="568.47,348.27 573.93,347.33 570.44,346.31 564.98,347.25" fill="#3e26a8"/><polygon points="681.28,348.31 686.74,347.37 683.25,346.35 677.8,347.29" fill="#3e26a8"/><polygon points="577.41,348.35 582.87,347.41 579.39,346.39 573.93,347.33" fill="#3e26a8"/><polygon points="690.23,348.38 695.69,347.44 692.2,346.43 686.74,347.37" fill="#3e26a8"/><polygon points="586.36,348.43 591.82,347.5 588.33,346.47 582.87,347.41" fill="#3e26a8"/><polygon points="699.17,348.45 704.63,347.51 701.15,346.51 695.69,347.44" fill="#3e26a9"/><polygon points="595.31,348.52 600.76,347.58 597.28,346.56 591.82,347.5" fill="#3e26a8"/><polygon points="708.12,348.51 713.58,347.57 710.09,346.57 704.63,347.51" fill="#3e27a9"/><polygon points="491.44,348.56 496.9,347.62 493.41,346.6 487.95,347.54" fill="#3e26a8"/><polygon points="604.25,348.6 609.71,347.66 606.22,346.64 600.76,347.58" fill="#3e26a8"/><polygon points="500.38,348.64 505.84,347.7 502.35,346.68 496.9,347.62" fill="#3e26a8"/><polygon points="717.07,348.54 722.53,347.6 719.04,346.63 713.58,347.57" fill="#3e27a9"/><polygon points="613.2,348.68 618.66,347.74 615.17,346.72 609.71,347.66" fill="#3e26a8"/><polygon points="509.33,348.72 514.79,347.78 511.3,346.76 505.84,347.7" fill="#3e26a8"/><polygon points="726.01,348.53 731.47,347.58 727.99,346.66 722.53,347.6" fill="#3e27aa"/><polygon points="622.14,348.76 627.6,347.82 624.12,346.8 618.66,347.74" fill="#3e26a8"/><polygon points="518.28,348.8 523.73,347.86 520.25,346.84 514.79,347.78" fill="#3e26a8"/><polygon points="631.09,348.84 636.55,347.9 633.06,346.88 627.6,347.82" fill="#3e26a8"/><polygon points="527.22,348.88 532.68,347.94 529.19,346.92 523.73,347.86" fill="#3e26a8"/><polygon points="734.96,348.4 740.42,347.45 736.93,346.64 731.47,347.58" fill="#3f28ad"/><polygon points="640.04,348.92 645.5,347.99 642.01,346.97 636.55,347.9" fill="#3e26a8"/><polygon points="536.17,348.96 541.63,348.03 538.14,347 532.68,347.94" fill="#3e26a8"/><polygon points="648.98,349.01 654.44,348.07 650.96,347.05 645.5,347.99" fill="#3e26a8"/><polygon points="545.11,349.05 550.57,348.11 547.09,347.09 541.63,348.03" fill="#3e26a8"/><polygon points="657.93,349.09 663.39,348.15 659.9,347.13 654.44,348.07" fill="#3e26a8"/><polygon points="743.91,347.85 749.37,346.89 745.88,346.5 740.42,347.45" fill="#402ab3"/><polygon points="554.06,349.13 559.52,348.19 556.03,347.17 550.57,348.11" fill="#3e26a8"/><polygon points="666.88,349.17 672.34,348.23 668.85,347.21 663.39,348.15" fill="#3e26a8"/><polygon points="563.01,349.21 568.47,348.27 564.98,347.25 559.52,348.19" fill="#3e26a8"/><polygon points="675.82,349.25 681.28,348.31 677.8,347.29 672.34,348.23" fill="#3e26a8"/><polygon points="571.95,349.29 577.41,348.35 573.93,347.33 568.47,348.27" fill="#3e26a8"/><polygon points="684.77,349.32 690.23,348.38 686.74,347.37 681.28,348.31" fill="#3e26a8"/><polygon points="580.9,349.37 586.36,348.43 582.87,347.41 577.41,348.35" fill="#3e26a8"/><polygon points="693.72,349.39 699.17,348.45 695.69,347.44 690.23,348.38" fill="#3e26a9"/><polygon points="589.85,349.46 595.31,348.52 591.82,347.5 586.36,348.43" fill="#3e26a8"/><polygon points="702.66,349.45 708.12,348.51 704.63,347.51 699.17,348.45" fill="#3e27a9"/><polygon points="485.98,349.5 491.44,348.56 487.95,347.54 482.49,348.47" fill="#3e26a8"/><polygon points="598.79,349.54 604.25,348.6 600.76,347.58 595.31,348.52" fill="#3e26a8"/><polygon points="494.92,349.58 500.38,348.64 496.9,347.62 491.44,348.56" fill="#3e26a8"/><polygon points="711.61,349.49 717.07,348.54 713.58,347.57 708.12,348.51" fill="#3e27a9"/><polygon points="607.74,349.62 613.2,348.68 609.71,347.66 604.25,348.6" fill="#3e26a8"/><polygon points="503.87,349.66 509.33,348.72 505.84,347.7 500.38,348.64" fill="#3e26a8"/><polygon points="720.55,349.47 726.01,348.53 722.53,347.6 717.07,348.54" fill="#3e27aa"/><polygon points="616.69,349.7 622.14,348.76 618.66,347.74 613.2,348.68" fill="#3e26a8"/><polygon points="512.82,349.74 518.28,348.8 514.79,347.78 509.33,348.72" fill="#3e26a8"/><polygon points="625.63,349.78 631.09,348.84 627.6,347.82 622.14,348.76" fill="#3e26a8"/><polygon points="729.5,349.35 734.96,348.4 731.47,347.58 726.01,348.53" fill="#3e28ad"/><polygon points="521.76,349.82 527.22,348.88 523.73,347.86 518.28,348.8" fill="#3e26a8"/><polygon points="634.58,349.86 640.04,348.92 636.55,347.9 631.09,348.84" fill="#3e26a8"/><polygon points="530.71,349.9 536.17,348.96 532.68,347.94 527.22,348.88" fill="#3e26a8"/><polygon points="643.52,349.95 648.98,349.01 645.5,347.99 640.04,348.92" fill="#3e26a8"/><polygon points="539.65,349.99 545.11,349.05 541.63,348.03 536.17,348.96" fill="#3e26a8"/><polygon points="652.47,350.03 657.93,349.09 654.44,348.07 648.98,349.01" fill="#3e26a8"/><polygon points="738.45,348.82 743.91,347.85 740.42,347.45 734.96,348.4" fill="#402ab3"/><polygon points="548.6,350.07 554.06,349.13 550.57,348.11 545.11,349.05" fill="#3e26a8"/><polygon points="661.42,350.11 666.88,349.17 663.39,348.15 657.93,349.09" fill="#3e26a8"/><polygon points="557.55,350.15 563.01,349.21 559.52,348.19 554.06,349.13" fill="#3e26a8"/><polygon points="670.36,350.19 675.82,349.25 672.34,348.23 666.88,349.17" fill="#3e26a8"/><polygon points="566.49,350.23 571.95,349.29 568.47,348.27 563.01,349.21" fill="#3e26a8"/><polygon points="679.31,350.26 684.77,349.32 681.28,348.31 675.82,349.25" fill="#3e26a8"/><polygon points="575.44,350.31 580.9,349.37 577.41,348.35 571.95,349.29" fill="#3e26a8"/><polygon points="688.26,350.33 693.72,349.39 690.23,348.38 684.77,349.32" fill="#3e26a9"/><polygon points="584.39,350.39 589.85,349.46 586.36,348.43 580.9,349.37" fill="#3e26a8"/><polygon points="697.2,350.39 702.66,349.45 699.17,348.45 693.72,349.39" fill="#3e26a9"/><polygon points="593.33,350.48 598.79,349.54 595.31,348.52 589.85,349.46" fill="#3e26a8"/><polygon points="489.46,350.52 494.92,349.58 491.44,348.56 485.98,349.5" fill="#3e26a8"/><polygon points="706.15,350.43 711.61,349.49 708.12,348.51 702.66,349.45" fill="#3e27a9"/><polygon points="747.39,347.08 752.85,346.07 749.37,346.89 743.91,347.85" fill="#4330c5"/><polygon points="602.28,350.56 607.74,349.62 604.25,348.6 598.79,349.54" fill="#3e26a8"/><polygon points="498.41,350.6 503.87,349.66 500.38,348.64 494.92,349.58" fill="#3e26a8"/><polygon points="715.1,350.41 720.55,349.47 717.07,348.54 711.61,349.49" fill="#3e27aa"/><polygon points="611.23,350.64 616.69,349.7 613.2,348.68 607.74,349.62" fill="#3e26a8"/><polygon points="507.36,350.68 512.82,349.74 509.33,348.72 503.87,349.66" fill="#3e26a8"/><polygon points="620.17,350.72 625.63,349.78 622.14,348.76 616.69,349.7" fill="#3e26a8"/><polygon points="724.04,350.3 729.5,349.35 726.01,348.53 720.55,349.47" fill="#3e28ac"/><polygon points="516.3,350.76 521.76,349.82 518.28,348.8 512.82,349.74" fill="#3e26a8"/><polygon points="629.12,350.8 634.58,349.86 631.09,348.84 625.63,349.78" fill="#3e26a8"/><polygon points="525.25,350.84 530.71,349.9 527.22,348.88 521.76,349.82" fill="#3e26a8"/><polygon points="638.06,350.88 643.52,349.95 640.04,348.92 634.58,349.86" fill="#3e26a8"/><polygon points="534.2,350.92 539.65,349.99 536.17,348.96 530.71,349.9" fill="#3e26a8"/><polygon points="647.01,350.97 652.47,350.03 648.98,349.01 643.52,349.95" fill="#3e26a8"/><polygon points="732.99,349.78 738.45,348.82 734.96,348.4 729.5,349.35" fill="#402ab3"/><polygon points="543.14,351.01 548.6,350.07 545.11,349.05 539.65,349.99" fill="#3e26a8"/><polygon points="655.96,351.05 661.42,350.11 657.93,349.09 652.47,350.03" fill="#3e26a8"/><polygon points="552.09,351.09 557.55,350.15 554.06,349.13 548.6,350.07" fill="#3e26a8"/><polygon points="664.9,351.13 670.36,350.19 666.88,349.17 661.42,350.11" fill="#3e26a8"/><polygon points="561.03,351.17 566.49,350.23 563.01,349.21 557.55,350.15" fill="#3e26a8"/><polygon points="673.85,351.2 679.31,350.26 675.82,349.25 670.36,350.19" fill="#3e26a8"/><polygon points="569.98,351.25 575.44,350.31 571.95,349.29 566.49,350.23" fill="#3e26a8"/><polygon points="682.8,351.27 688.26,350.33 684.77,349.32 679.31,350.26" fill="#3e26a9"/><polygon points="578.93,351.33 584.39,350.39 580.9,349.37 575.44,350.31" fill="#3e26a8"/><polygon points="691.74,351.33 697.2,350.39 693.72,349.39 688.26,350.33" fill="#3e26a9"/><polygon points="587.87,351.42 593.33,350.48 589.85,349.46 584.39,350.39" fill="#3e26a8"/><polygon points="700.69,351.37 706.15,350.43 702.66,349.45 697.2,350.39" fill="#3e27a9"/><polygon points="741.93,348.09 747.39,347.08 743.91,347.85 738.45,348.82" fill="#4330c5"/><polygon points="596.82,351.5 602.28,350.56 598.79,349.54 593.33,350.48" fill="#3e26a8"/><polygon points="492.95,351.54 498.41,350.6 494.92,349.58 489.46,350.52" fill="#3e26a8"/><polygon points="709.64,351.36 715.1,350.41 711.61,349.49 706.15,350.43" fill="#3e27aa"/><polygon points="605.77,351.58 611.23,350.64 607.74,349.62 602.28,350.56" fill="#3e26a8"/><polygon points="501.9,351.62 507.36,350.68 503.87,349.66 498.41,350.6" fill="#3e26a8"/><polygon points="614.71,351.66 620.17,350.72 616.69,349.7 611.23,350.64" fill="#3e26a8"/><polygon points="718.58,351.25 724.04,350.3 720.55,349.47 715.1,350.41" fill="#3e28ac"/><polygon points="510.84,351.7 516.3,350.76 512.82,349.74 507.36,350.68" fill="#3e26a8"/><polygon points="623.66,351.74 629.12,350.8 625.63,349.78 620.17,350.72" fill="#3e26a8"/><polygon points="519.79,351.78 525.25,350.84 521.76,349.82 516.3,350.76" fill="#3e26a8"/><polygon points="632.61,351.82 638.06,350.88 634.58,349.86 629.12,350.8" fill="#3e26a8"/><polygon points="528.74,351.86 534.2,350.92 530.71,349.9 525.25,350.84" fill="#3e26a8"/><polygon points="641.55,351.9 647.01,350.97 643.52,349.95 638.06,350.88" fill="#3e26a8"/><polygon points="727.53,350.75 732.99,349.78 729.5,349.35 724.04,350.3" fill="#402ab3"/><polygon points="537.68,351.95 543.14,351.01 539.65,349.99 534.2,350.92" fill="#3e26a8"/><polygon points="650.5,351.99 655.96,351.05 652.47,350.03 647.01,350.97" fill="#3e26a8"/><polygon points="546.63,352.03 552.09,351.09 548.6,350.07 543.14,351.01" fill="#3e26a8"/><polygon points="659.44,352.07 664.9,351.13 661.42,350.11 655.96,351.05" fill="#3e26a8"/><polygon points="555.58,352.11 561.03,351.17 557.55,350.15 552.09,351.09" fill="#3e26a8"/><polygon points="668.39,352.14 673.85,351.2 670.36,350.19 664.9,351.13" fill="#3e26a8"/><polygon points="564.52,352.19 569.98,351.25 566.49,350.23 561.03,351.17" fill="#3e26a8"/><polygon points="677.34,352.21 682.8,351.27 679.31,350.26 673.85,351.2" fill="#3e26a9"/><polygon points="573.47,352.27 578.93,351.33 575.44,350.31 569.98,351.25" fill="#3e26a8"/><polygon points="686.28,352.27 691.74,351.33 688.26,350.33 682.8,351.27" fill="#3e26a9"/><polygon points="582.41,352.35 587.87,351.42 584.39,350.39 578.93,351.33" fill="#3e26a8"/><polygon points="736.47,349.1 741.93,348.09 738.45,348.82 732.99,349.78" fill="#4230c4"/><polygon points="695.23,352.31 700.69,351.37 697.2,350.39 691.74,351.33" fill="#3e27a9"/><polygon points="591.36,352.44 596.82,351.5 593.33,350.48 587.87,351.42" fill="#3e26a8"/><polygon points="704.18,352.3 709.64,351.36 706.15,350.43 700.69,351.37" fill="#3e27aa"/><polygon points="600.31,352.52 605.77,351.58 602.28,350.56 596.82,351.5" fill="#3e26a8"/><polygon points="496.44,352.56 501.9,351.62 498.41,350.6 492.95,351.54" fill="#3e26a8"/><polygon points="609.25,352.6 614.71,351.66 611.23,350.64 605.77,351.58" fill="#3e26a8"/><polygon points="713.12,352.2 718.58,351.25 715.1,350.41 709.64,351.36" fill="#3e28ac"/><polygon points="505.38,352.64 510.84,351.7 507.36,350.68 501.9,351.62" fill="#3e26a8"/><polygon points="618.2,352.68 623.66,351.74 620.17,350.72 614.71,351.66" fill="#3e26a8"/><polygon points="514.33,352.72 519.79,351.78 516.3,350.76 510.84,351.7" fill="#3e26a8"/><polygon points="627.15,352.76 632.61,351.82 629.12,350.8 623.66,351.74" fill="#3e26a8"/><polygon points="523.28,352.8 528.74,351.86 525.25,350.84 519.79,351.78" fill="#3e26a8"/><polygon points="636.09,352.84 641.55,351.9 638.06,350.88 632.61,351.82" fill="#3e26a8"/><polygon points="722.07,351.71 727.53,350.75 724.04,350.3 718.58,351.25" fill="#3f29b2"/><polygon points="532.22,352.88 537.68,351.95 534.2,350.92 528.74,351.86" fill="#3e26a8"/><polygon points="645.04,352.92 650.5,351.99 647.01,350.97 641.55,351.9" fill="#3e26a8"/><polygon points="541.17,352.97 546.63,352.03 543.14,351.01 537.68,351.95" fill="#3e26a8"/><polygon points="653.99,353 659.44,352.07 655.96,351.05 650.5,351.99" fill="#3e26a8"/><polygon points="550.12,353.05 555.58,352.11 552.09,351.09 546.63,352.03" fill="#3e26a8"/><polygon points="662.93,353.08 668.39,352.14 664.9,351.13 659.44,352.07" fill="#3e26a8"/><polygon points="559.06,353.13 564.52,352.19 561.03,351.17 555.58,352.11" fill="#3e26a8"/><polygon points="671.88,353.15 677.34,352.21 673.85,351.2 668.39,352.14" fill="#3e26a9"/><polygon points="568.01,353.21 573.47,352.27 569.98,351.25 564.52,352.19" fill="#3e26a8"/><polygon points="680.82,353.21 686.28,352.27 682.8,351.27 677.34,352.21" fill="#3e26a9"/><polygon points="576.95,353.29 582.41,352.35 578.93,351.33 573.47,352.27" fill="#3e26a8"/><polygon points="731.02,350.11 736.47,349.1 732.99,349.78 727.53,350.75" fill="#4230c3"/><polygon points="689.77,353.25 695.23,352.31 691.74,351.33 686.28,352.27" fill="#3e27a9"/><polygon points="585.9,353.38 591.36,352.44 587.87,351.42 582.41,352.35" fill="#3e26a8"/><polygon points="698.72,353.25 704.18,352.3 700.69,351.37 695.23,352.31" fill="#3e27aa"/><polygon points="594.85,353.46 600.31,352.52 596.82,351.5 591.36,352.44" fill="#3e26a8"/><polygon points="603.79,353.54 609.25,352.6 605.77,351.58 600.31,352.52" fill="#3e26a8"/><polygon points="707.66,353.15 713.12,352.2 709.64,351.36 704.18,352.3" fill="#3e28ac"/><polygon points="499.92,353.58 505.38,352.64 501.9,351.62 496.44,352.56" fill="#3e26a8"/><polygon points="612.74,353.62 618.2,352.68 614.71,351.66 609.25,352.6" fill="#3e26a8"/><polygon points="508.87,353.66 514.33,352.72 510.84,351.7 505.38,352.64" fill="#3e26a8"/><polygon points="750.88,337.41 756.34,336.13 752.85,346.07 747.39,347.08" fill="#4564fd"/><polygon points="621.69,353.7 627.15,352.76 623.66,351.74 618.2,352.68" fill="#3e26a8"/><polygon points="517.82,353.74 523.28,352.8 519.79,351.78 514.33,352.72" fill="#3e26a8"/><polygon points="630.63,353.78 636.09,352.84 632.61,351.82 627.15,352.76" fill="#3e26a8"/><polygon points="716.61,352.68 722.07,351.71 718.58,351.25 713.12,352.2" fill="#3f29b2"/><polygon points="526.76,353.82 532.22,352.88 528.74,351.86 523.28,352.8" fill="#3e26a8"/><polygon points="639.58,353.86 645.04,352.92 641.55,351.9 636.09,352.84" fill="#3e26a8"/><polygon points="535.71,353.91 541.17,352.97 537.68,351.95 532.22,352.88" fill="#3e26a8"/><polygon points="648.53,353.94 653.99,353 650.5,351.99 645.04,352.92" fill="#3e26a8"/><polygon points="544.66,353.99 550.12,353.05 546.63,352.03 541.17,352.97" fill="#3e26a8"/><polygon points="657.47,354.02 662.93,353.08 659.44,352.07 653.99,353" fill="#3e26a8"/><polygon points="553.6,354.07 559.06,353.13 555.58,352.11 550.12,353.05" fill="#3e26a8"/><polygon points="666.42,354.09 671.88,353.15 668.39,352.14 662.93,353.08" fill="#3e26a9"/><polygon points="562.55,354.15 568.01,353.21 564.52,352.19 559.06,353.13" fill="#3e26a8"/><polygon points="675.36,354.16 680.82,353.21 677.34,352.21 671.88,353.15" fill="#3e26a9"/><polygon points="571.5,354.23 576.95,353.29 573.47,352.27 568.01,353.21" fill="#3e26a8"/><polygon points="725.56,351.12 731.02,350.11 727.53,350.75 722.07,351.71" fill="#422fc3"/><polygon points="684.31,354.2 689.77,353.25 686.28,352.27 680.82,353.21" fill="#3e27a9"/><polygon points="580.44,354.31 585.9,353.38 582.41,352.35 576.95,353.29" fill="#3e26a8"/><polygon points="693.26,354.19 698.72,353.25 695.23,352.31 689.77,353.25" fill="#3e27aa"/><polygon points="589.39,354.4 594.85,353.46 591.36,352.44 585.9,353.38" fill="#3e26a8"/><polygon points="598.33,354.48 603.79,353.54 600.31,352.52 594.85,353.46" fill="#3e26a8"/><polygon points="702.2,354.1 707.66,353.15 704.18,352.3 698.72,353.25" fill="#3e27ac"/><polygon points="607.28,354.56 612.74,353.62 609.25,352.6 603.79,353.54" fill="#3e26a8"/><polygon points="745.42,338.69 750.88,337.41 747.39,347.08 741.93,348.09" fill="#4562fc"/><polygon points="503.41,354.6 508.87,353.66 505.38,352.64 499.92,353.58" fill="#3e26a8"/><polygon points="616.23,354.64 621.69,353.7 618.2,352.68 612.74,353.62" fill="#3e26a8"/><polygon points="512.36,354.68 517.82,353.74 514.33,352.72 508.87,353.66" fill="#3e26a8"/><polygon points="711.15,353.64 716.61,352.68 713.12,352.2 707.66,353.15" fill="#3f29b2"/><polygon points="625.17,354.72 630.63,353.78 627.15,352.76 621.69,353.7" fill="#3e26a8"/><polygon points="521.3,354.76 526.76,353.82 523.28,352.8 517.82,353.74" fill="#3e26a8"/><polygon points="634.12,354.8 639.58,353.86 636.09,352.84 630.63,353.78" fill="#3e26a8"/><polygon points="530.25,354.84 535.71,353.91 532.22,352.88 526.76,353.82" fill="#3e26a8"/><polygon points="643.07,354.88 648.53,353.94 645.04,352.92 639.58,353.86" fill="#3e26a8"/><polygon points="539.2,354.93 544.66,353.99 541.17,352.97 535.71,353.91" fill="#3e26a8"/><polygon points="652.01,354.96 657.47,354.02 653.99,353 648.53,353.94" fill="#3e26a8"/><polygon points="548.14,355.01 553.6,354.07 550.12,353.05 544.66,353.99" fill="#3e26a8"/><polygon points="660.96,355.03 666.42,354.09 662.93,353.08 657.47,354.02" fill="#3e26a9"/><polygon points="557.09,355.09 562.55,354.15 559.06,353.13 553.6,354.07" fill="#3e26a8"/><polygon points="669.91,355.1 675.36,354.16 671.88,353.15 666.42,354.09" fill="#3e26a9"/><polygon points="720.1,352.13 725.56,351.12 722.07,351.71 716.61,352.68" fill="#422fc2"/><polygon points="566.04,355.17 571.5,354.23 568.01,353.21 562.55,354.15" fill="#3e26a8"/><polygon points="678.85,355.14 684.31,354.2 680.82,353.21 675.36,354.16" fill="#3e27a9"/><polygon points="574.98,355.25 580.44,354.31 576.95,353.29 571.5,354.23" fill="#3e26a8"/><polygon points="687.8,355.14 693.26,354.19 689.77,353.25 684.31,354.2" fill="#3e27aa"/><polygon points="583.93,355.34 589.39,354.4 585.9,353.38 580.44,354.31" fill="#3e26a8"/><polygon points="592.88,355.42 598.33,354.48 594.85,353.46 589.39,354.4" fill="#3e26a8"/><polygon points="739.96,339.96 745.42,338.69 741.93,348.09 736.47,349.1" fill="#4660fc"/><polygon points="696.74,355.05 702.2,354.1 698.72,353.25 693.26,354.19" fill="#3e27ac"/><polygon points="601.82,355.5 607.28,354.56 603.79,353.54 598.33,354.48" fill="#3e26a8"/><polygon points="610.77,355.58 616.23,354.64 612.74,353.62 607.28,354.56" fill="#3e26a8"/><polygon points="506.9,355.62 512.36,354.68 508.87,353.66 503.41,354.6" fill="#3e26a8"/><polygon points="705.69,354.61 711.15,353.64 707.66,353.15 702.2,354.1" fill="#3f29b2"/><polygon points="619.71,355.66 625.17,354.72 621.69,353.7 616.23,354.64" fill="#3e26a8"/><polygon points="515.85,355.7 521.3,354.76 517.82,353.74 512.36,354.68" fill="#3e26a8"/><polygon points="628.66,355.74 634.12,354.8 630.63,353.78 625.17,354.72" fill="#3e26a8"/><polygon points="524.79,355.78 530.25,354.84 526.76,353.82 521.3,354.76" fill="#3e26a8"/><polygon points="637.61,355.82 643.07,354.88 639.58,353.86 634.12,354.8" fill="#3e26a8"/><polygon points="533.74,355.87 539.2,354.93 535.71,353.91 530.25,354.84" fill="#3e26a8"/><polygon points="646.55,355.9 652.01,354.96 648.53,353.94 643.07,354.88" fill="#3e26a8"/><polygon points="542.68,355.95 548.14,355.01 544.66,353.99 539.2,354.93" fill="#3e26a8"/><polygon points="655.5,355.97 660.96,355.03 657.47,354.02 652.01,354.96" fill="#3e26a9"/><polygon points="551.63,356.03 557.09,355.09 553.6,354.07 548.14,355.01" fill="#3e26a8"/><polygon points="664.45,356.04 669.91,355.1 666.42,354.09 660.96,355.03" fill="#3e26a9"/><polygon points="714.64,353.14 720.1,352.13 716.61,352.68 711.15,353.64" fill="#422fc1"/><polygon points="560.58,356.11 566.04,355.17 562.55,354.15 557.09,355.09" fill="#3e26a8"/><polygon points="673.39,356.08 678.85,355.14 675.36,354.16 669.91,355.1" fill="#3e27a9"/><polygon points="569.52,356.19 574.98,355.25 571.5,354.23 566.04,355.17" fill="#3e26a8"/><polygon points="682.34,356.08 687.8,355.14 684.31,354.2 678.85,355.14" fill="#3e27aa"/><polygon points="578.47,356.27 583.93,355.34 580.44,354.31 574.98,355.25" fill="#3e26a8"/><polygon points="734.5,341.24 739.96,339.96 736.47,349.1 731.02,350.11" fill="#465efb"/><polygon points="587.42,356.36 592.88,355.42 589.39,354.4 583.93,355.34" fill="#3e26a8"/><polygon points="691.29,356 696.74,355.05 693.26,354.19 687.8,355.14" fill="#3e27ac"/><polygon points="596.36,356.44 601.82,355.5 598.33,354.48 592.88,355.42" fill="#3e26a8"/><polygon points="605.31,356.52 610.77,355.58 607.28,354.56 601.82,355.5" fill="#3e26a8"/><polygon points="700.23,355.57 705.69,354.61 702.2,354.1 696.74,355.05" fill="#3f29b1"/><polygon points="614.25,356.6 619.71,355.66 616.23,354.64 610.77,355.58" fill="#3e26a8"/><polygon points="510.39,356.64 515.85,355.7 512.36,354.68 506.9,355.62" fill="#3e26a8"/><polygon points="623.2,356.68 628.66,355.74 625.17,354.72 619.71,355.66" fill="#3e26a8"/><polygon points="519.33,356.72 524.79,355.78 521.3,354.76 515.85,355.7" fill="#3e26a8"/><polygon points="632.15,356.76 637.61,355.82 634.12,354.8 628.66,355.74" fill="#3e26a8"/><polygon points="528.28,356.8 533.74,355.87 530.25,354.84 524.79,355.78" fill="#3e26a8"/><polygon points="641.09,356.84 646.55,355.9 643.07,354.88 637.61,355.82" fill="#3e26a8"/><polygon points="537.22,356.89 542.68,355.95 539.2,354.93 533.74,355.87" fill="#3e26a8"/><polygon points="650.04,356.91 655.5,355.97 652.01,354.96 646.55,355.9" fill="#3e26a9"/><polygon points="546.17,356.97 551.63,356.03 548.14,355.01 542.68,355.95" fill="#3e26a8"/><polygon points="709.18,354.15 714.64,353.14 711.15,353.64 705.69,354.61" fill="#422fc0"/><polygon points="658.99,356.98 664.45,356.04 660.96,355.03 655.5,355.97" fill="#3e26a9"/><polygon points="555.12,357.05 560.58,356.11 557.09,355.09 551.63,356.03" fill="#3e26a8"/><polygon points="667.93,357.02 673.39,356.08 669.91,355.1 664.45,356.04" fill="#3e27a9"/><polygon points="564.06,357.13 569.52,356.19 566.04,355.17 560.58,356.11" fill="#3e26a8"/><polygon points="729.04,342.52 734.5,341.24 731.02,350.11 725.56,351.12" fill="#475dfa"/><polygon points="676.88,357.03 682.34,356.08 678.85,355.14 673.39,356.08" fill="#3e27aa"/><polygon points="573.01,357.21 578.47,356.27 574.98,355.25 569.52,356.19" fill="#3e26a8"/><polygon points="581.96,357.29 587.42,356.36 583.93,355.34 578.47,356.27" fill="#3e26a8"/><polygon points="685.83,356.95 691.29,356 687.8,355.14 682.34,356.08" fill="#3e27ac"/><polygon points="590.9,357.38 596.36,356.44 592.88,355.42 587.42,356.36" fill="#3e26a8"/><polygon points="599.85,357.46 605.31,356.52 601.82,355.5 596.36,356.44" fill="#3e26a8"/><polygon points="694.77,356.54 700.23,355.57 696.74,355.05 691.29,356" fill="#3f29b1"/><polygon points="608.8,357.54 614.25,356.6 610.77,355.58 605.31,356.52" fill="#3e26a8"/><polygon points="617.74,357.62 623.2,356.68 619.71,355.66 614.25,356.6" fill="#3e26a8"/><polygon points="513.87,357.66 519.33,356.72 515.85,355.7 510.39,356.64" fill="#3e26a8"/><polygon points="626.69,357.7 632.15,356.76 628.66,355.74 623.2,356.68" fill="#3e26a8"/><polygon points="522.82,357.74 528.28,356.8 524.79,355.78 519.33,356.72" fill="#3e26a8"/><polygon points="635.63,357.78 641.09,356.84 637.61,355.82 632.15,356.76" fill="#3e26a8"/><polygon points="531.77,357.83 537.22,356.89 533.74,355.87 528.28,356.8" fill="#3e26a8"/><polygon points="644.58,357.85 650.04,356.91 646.55,355.9 641.09,356.84" fill="#3e26a9"/><polygon points="540.71,357.91 546.17,356.97 542.68,355.95 537.22,356.89" fill="#3e26a8"/><polygon points="703.72,355.17 709.18,354.15 705.69,354.61 700.23,355.57" fill="#422ec0"/><polygon points="653.53,357.92 658.99,356.98 655.5,355.97 650.04,356.91" fill="#3e26a9"/><polygon points="549.66,357.99 555.12,357.05 551.63,356.03 546.17,356.97" fill="#3e26a8"/><polygon points="662.47,357.97 667.93,357.02 664.45,356.04 658.99,356.98" fill="#3e27a9"/><polygon points="723.58,343.79 729.04,342.52 725.56,351.12 720.1,352.13" fill="#475bf9"/><polygon points="558.6,358.07 564.06,357.13 560.58,356.11 555.12,357.05" fill="#3e26a8"/><polygon points="671.42,357.98 676.88,357.03 673.39,356.08 667.93,357.02" fill="#3e27aa"/><polygon points="567.55,358.15 573.01,357.21 569.52,356.19 564.06,357.13" fill="#3e26a8"/><polygon points="576.5,358.23 581.96,357.29 578.47,356.27 573.01,357.21" fill="#3e26a8"/><polygon points="680.37,357.91 685.83,356.95 682.34,356.08 676.88,357.03" fill="#3e27ab"/><polygon points="585.44,358.32 590.9,357.38 587.42,356.36 581.96,357.29" fill="#3e26a8"/><polygon points="594.39,358.4 599.85,357.46 596.36,356.44 590.9,357.38" fill="#3e26a8"/><polygon points="689.31,357.52 694.77,356.54 691.29,356 685.83,356.95" fill="#3f29b1"/><polygon points="603.34,358.48 608.8,357.54 605.31,356.52 599.85,357.46" fill="#3e26a8"/><polygon points="612.28,358.56 617.74,357.62 614.25,356.6 608.8,357.54" fill="#3e26a8"/><polygon points="621.23,358.64 626.69,357.7 623.2,356.68 617.74,357.62" fill="#3e26a8"/><polygon points="517.36,358.68 522.82,357.74 519.33,356.72 513.87,357.66" fill="#3e26a8"/><polygon points="630.18,358.72 635.63,357.78 632.15,356.76 626.69,357.7" fill="#3e26a8"/><polygon points="526.31,358.76 531.77,357.83 528.28,356.8 522.82,357.74" fill="#3e26a8"/><polygon points="639.12,358.79 644.58,357.85 641.09,356.84 635.63,357.78" fill="#3e26a9"/><polygon points="535.25,358.85 540.71,357.91 537.22,356.89 531.77,357.83" fill="#3e26a8"/><polygon points="698.26,356.19 703.72,355.17 700.23,355.57 694.77,356.54" fill="#422ebf"/><polygon points="648.07,358.86 653.53,357.92 650.04,356.91 644.58,357.85" fill="#3e26a9"/><polygon points="718.12,345.07 723.58,343.79 720.1,352.13 714.64,353.14" fill="#4759f8"/><polygon points="544.2,358.93 549.66,357.99 546.17,356.97 540.71,357.91" fill="#3e26a8"/><polygon points="657.01,358.91 662.47,357.97 658.99,356.98 653.53,357.92" fill="#3e27a9"/><polygon points="553.15,359.01 558.6,358.07 555.12,357.05 549.66,357.99" fill="#3e26a8"/><polygon points="665.96,358.92 671.42,357.98 667.93,357.02 662.47,357.97" fill="#3e27aa"/><polygon points="562.09,359.09 567.55,358.15 564.06,357.13 558.6,358.07" fill="#3e26a8"/><polygon points="571.04,359.17 576.5,358.23 573.01,357.21 567.55,358.15" fill="#3e26a8"/><polygon points="674.91,358.86 680.37,357.91 676.88,357.03 671.42,357.98" fill="#3e27ab"/><polygon points="579.98,359.25 585.44,358.32 581.96,357.29 576.5,358.23" fill="#3e26a8"/><polygon points="588.93,359.34 594.39,358.4 590.9,357.38 585.44,358.32" fill="#3e26a8"/><polygon points="683.85,358.49 689.31,357.52 685.83,356.95 680.37,357.91" fill="#3f29b0"/><polygon points="597.88,359.42 603.34,358.48 599.85,357.46 594.39,358.4" fill="#3e26a8"/><polygon points="606.82,359.5 612.28,358.56 608.8,357.54 603.34,358.48" fill="#3e26a8"/><polygon points="615.77,359.58 621.23,358.64 617.74,357.62 612.28,358.56" fill="#3e26a8"/><polygon points="624.72,359.66 630.18,358.72 626.69,357.7 621.23,358.64" fill="#3e26a8"/><polygon points="520.85,359.7 526.31,358.76 522.82,357.74 517.36,358.68" fill="#3e26a8"/><polygon points="633.66,359.73 639.12,358.79 635.63,357.78 630.18,358.72" fill="#3e26a9"/><polygon points="692.8,357.22 698.26,356.19 694.77,356.54 689.31,357.52" fill="#412ebe"/><polygon points="712.66,346.37 718.12,345.07 714.64,353.14 709.18,354.15" fill="#4757f8"/><polygon points="529.79,359.79 535.25,358.85 531.77,357.83 526.31,358.76" fill="#3e26a8"/><polygon points="642.61,359.8 648.07,358.86 644.58,357.85 639.12,358.79" fill="#3e26a9"/><polygon points="538.74,359.87 544.2,358.93 540.71,357.91 535.25,358.85" fill="#3e26a8"/><polygon points="651.55,359.85 657.01,358.91 653.53,357.92 648.07,358.86" fill="#3e27a9"/><polygon points="547.69,359.95 553.15,359.01 549.66,357.99 544.2,358.93" fill="#3e26a8"/><polygon points="660.5,359.87 665.96,358.92 662.47,357.97 657.01,358.91" fill="#3e27aa"/><polygon points="556.63,360.03 562.09,359.09 558.6,358.07 553.15,359.01" fill="#3e26a8"/><polygon points="565.58,360.11 571.04,359.17 567.55,358.15 562.09,359.09" fill="#3e26a8"/><polygon points="669.45,359.81 674.91,358.86 671.42,357.98 665.96,358.92" fill="#3e27ab"/><polygon points="574.52,360.19 579.98,359.25 576.5,358.23 571.04,359.17" fill="#3e26a8"/><polygon points="583.47,360.28 588.93,359.34 585.44,358.32 579.98,359.25" fill="#3e26a8"/><polygon points="678.39,359.47 683.85,358.49 680.37,357.91 674.91,358.86" fill="#3f29b0"/><polygon points="592.42,360.36 597.88,359.42 594.39,358.4 588.93,359.34" fill="#3e26a8"/><polygon points="601.36,360.44 606.82,359.5 603.34,358.48 597.88,359.42" fill="#3e26a8"/><polygon points="610.31,360.52 615.77,359.58 612.28,358.56 606.82,359.5" fill="#3e26a8"/><polygon points="619.26,360.6 624.72,359.66 621.23,358.64 615.77,359.58" fill="#3e26a8"/><polygon points="707.21,347.68 712.66,346.37 709.18,354.15 703.72,355.17" fill="#4756f6"/><polygon points="628.2,360.67 633.66,359.73 630.18,358.72 624.72,359.66" fill="#3e26a9"/><polygon points="687.34,358.26 692.8,357.22 689.31,357.52 683.85,358.49" fill="#412dbd"/><polygon points="524.33,360.72 529.79,359.79 526.31,358.76 520.85,359.7" fill="#3e26a8"/><polygon points="637.15,360.74 642.61,359.8 639.12,358.79 633.66,359.73" fill="#3e26a9"/><polygon points="533.28,360.81 538.74,359.87 535.25,358.85 529.79,359.79" fill="#3e26a8"/><polygon points="646.1,360.79 651.55,359.85 648.07,358.86 642.61,359.8" fill="#3e27a9"/><polygon points="542.23,360.89 547.69,359.95 544.2,358.93 538.74,359.87" fill="#3e26a8"/><polygon points="655.04,360.81 660.5,359.87 657.01,358.91 651.55,359.85" fill="#3e27aa"/><polygon points="551.17,360.97 556.63,360.03 553.15,359.01 547.69,359.95" fill="#3e26a8"/><polygon points="560.12,361.05 565.58,360.11 562.09,359.09 556.63,360.03" fill="#3e26a8"/><polygon points="663.99,360.76 669.45,359.81 665.96,358.92 660.5,359.87" fill="#3e27ab"/><polygon points="569.07,361.13 574.52,360.19 571.04,359.17 565.58,360.11" fill="#3e26a8"/><polygon points="578.01,361.21 583.47,360.28 579.98,359.25 574.52,360.19" fill="#3e26a8"/><polygon points="672.93,360.44 678.39,359.47 674.91,358.86 669.45,359.81" fill="#3f29af"/><polygon points="586.96,361.3 592.42,360.36 588.93,359.34 583.47,360.28" fill="#3e26a8"/><polygon points="595.9,361.38 601.36,360.44 597.88,359.42 592.42,360.36" fill="#3e26a8"/><polygon points="604.85,361.46 610.31,360.52 606.82,359.5 601.36,360.44" fill="#3e26a8"/><polygon points="701.75,349 707.21,347.68 703.72,355.17 698.26,356.19" fill="#4854f5"/><polygon points="613.8,361.54 619.26,360.6 615.77,359.58 610.31,360.52" fill="#3e26a8"/><polygon points="681.88,359.29 687.34,358.26 683.85,358.49 678.39,359.47" fill="#412dbc"/><polygon points="622.74,361.61 628.2,360.67 624.72,359.66 619.26,360.6" fill="#3e26a8"/><polygon points="631.69,361.68 637.15,360.74 633.66,359.73 628.2,360.67" fill="#3e26a9"/><polygon points="527.82,361.75 533.28,360.81 529.79,359.79 524.33,360.72" fill="#3e26a8"/><polygon points="640.64,361.74 646.1,360.79 642.61,359.8 637.15,360.74" fill="#3e27a9"/><polygon points="536.77,361.83 542.23,360.89 538.74,359.87 533.28,360.81" fill="#3e26a8"/><polygon points="649.58,361.76 655.04,360.81 651.55,359.85 646.1,360.79" fill="#3e27aa"/><polygon points="545.71,361.91 551.17,360.97 547.69,359.95 542.23,360.89" fill="#3e26a8"/><polygon points="554.66,361.99 560.12,361.05 556.63,360.03 551.17,360.97" fill="#3e26a8"/><polygon points="658.53,361.72 663.99,360.76 660.5,359.87 655.04,360.81" fill="#3e27ab"/><polygon points="563.61,362.07 569.07,361.13 565.58,360.11 560.12,361.05" fill="#3e26a8"/><polygon points="572.55,362.15 578.01,361.21 574.52,360.19 569.07,361.13" fill="#3e26a8"/><polygon points="667.48,361.41 672.93,360.44 669.45,359.81 663.99,360.76" fill="#3f28af"/><polygon points="581.5,362.24 586.96,361.3 583.47,360.28 578.01,361.21" fill="#3e26a8"/><polygon points="590.45,362.32 595.9,361.38 592.42,360.36 586.96,361.3" fill="#3e26a8"/><polygon points="696.29,350.4 701.75,349 698.26,356.19 692.8,357.22" fill="#4851f4"/><polygon points="599.39,362.4 604.85,361.46 601.36,360.44 595.9,361.38" fill="#3e26a8"/><polygon points="608.34,362.48 613.8,361.54 610.31,360.52 604.85,361.46" fill="#3e26a8"/><polygon points="676.42,360.33 681.88,359.29 678.39,359.47 672.93,360.44" fill="#412dbb"/><polygon points="617.28,362.55 622.74,361.61 619.26,360.6 613.8,361.54" fill="#3e26a8"/><polygon points="626.23,362.62 631.69,361.68 628.2,360.67 622.74,361.61" fill="#3e26a9"/><polygon points="635.18,362.68 640.64,361.74 637.15,360.74 631.69,361.68" fill="#3e27a9"/><polygon points="531.31,362.77 536.77,361.83 533.28,360.81 527.82,361.75" fill="#3e26a8"/><polygon points="644.12,362.7 649.58,361.76 646.1,360.79 640.64,361.74" fill="#3e27a9"/><polygon points="540.25,362.85 545.71,361.91 542.23,360.89 536.77,361.83" fill="#3e26a8"/><polygon points="549.2,362.93 554.66,361.99 551.17,360.97 545.71,361.91" fill="#3e26a8"/><polygon points="653.07,362.67 658.53,361.72 655.04,360.81 649.58,361.76" fill="#3e27ab"/><polygon points="558.15,363.01 563.61,362.07 560.12,361.05 554.66,361.99" fill="#3e26a8"/><polygon points="567.09,363.09 572.55,362.15 569.07,361.13 563.61,362.07" fill="#3e26a8"/><polygon points="662.02,362.39 667.48,361.41 663.99,360.76 658.53,361.72" fill="#3f28af"/><polygon points="576.04,363.17 581.5,362.24 578.01,361.21 572.55,362.15" fill="#3e26a8"/><polygon points="690.83,351.8 696.29,350.4 692.8,357.22 687.34,358.26" fill="#484ff2"/><polygon points="584.99,363.26 590.45,362.32 586.96,361.3 581.5,362.24" fill="#3e26a8"/><polygon points="593.93,363.34 599.39,362.4 595.9,361.38 590.45,362.32" fill="#3e26a8"/><polygon points="602.88,363.42 608.34,362.48 604.85,361.46 599.39,362.4" fill="#3e26a8"/><polygon points="670.96,361.36 676.42,360.33 672.93,360.44 667.48,361.41" fill="#412cba"/><polygon points="611.82,363.49 617.28,362.55 613.8,361.54 608.34,362.48" fill="#3e26a8"/><polygon points="620.77,363.56 626.23,362.62 622.74,361.61 617.28,362.55" fill="#3e26a9"/><polygon points="629.72,363.62 635.18,362.68 631.69,361.68 626.23,362.62" fill="#3e27a9"/><polygon points="638.66,363.65 644.12,362.7 640.64,361.74 635.18,362.68" fill="#3e27a9"/><polygon points="534.79,363.79 540.25,362.85 536.77,361.83 531.31,362.77" fill="#3e26a8"/><polygon points="543.74,363.87 549.2,362.93 545.71,361.91 540.25,362.85" fill="#3e26a8"/><polygon points="647.61,363.62 653.07,362.67 649.58,361.76 644.12,362.7" fill="#3e27ab"/><polygon points="552.69,363.95 558.15,363.01 554.66,361.99 549.2,362.93" fill="#3e26a8"/><polygon points="561.63,364.03 567.09,363.09 563.61,362.07 558.15,363.01" fill="#3e26a8"/><polygon points="656.56,363.36 662.02,362.39 658.53,361.72 653.07,362.67" fill="#3f28ae"/><polygon points="685.37,353.21 690.83,351.8 687.34,358.26 681.88,359.29" fill="#484df0"/><polygon points="570.58,364.11 576.04,363.17 572.55,362.15 567.09,363.09" fill="#3e26a8"/><polygon points="579.53,364.19 584.99,363.26 581.5,362.24 576.04,363.17" fill="#3e26a8"/><polygon points="588.47,364.28 593.93,363.34 590.45,362.32 584.99,363.26" fill="#3e26a8"/><polygon points="597.42,364.36 602.88,363.42 599.39,362.4 593.93,363.34" fill="#3e26a8"/><polygon points="665.5,362.39 670.96,361.36 667.48,361.41 662.02,362.39" fill="#412cb9"/><polygon points="606.37,364.43 611.82,363.49 608.34,362.48 602.88,363.42" fill="#3e26a8"/><polygon points="615.31,364.5 620.77,363.56 617.28,362.55 611.82,363.49" fill="#3e26a9"/><polygon points="624.26,364.56 629.72,363.62 626.23,362.62 620.77,363.56" fill="#3e26a9"/><polygon points="633.2,364.6 638.66,363.65 635.18,362.68 629.72,363.62" fill="#3e27a9"/><polygon points="538.28,364.81 543.74,363.87 540.25,362.85 534.79,363.79" fill="#3e26a8"/><polygon points="642.15,364.57 647.61,363.62 644.12,362.7 638.66,363.65" fill="#3e27aa"/><polygon points="547.23,364.89 552.69,363.95 549.2,362.93 543.74,363.87" fill="#3e26a8"/><polygon points="679.91,354.61 685.37,353.21 681.88,359.29 676.42,360.33" fill="#484aee"/><polygon points="651.1,364.33 656.56,363.36 653.07,362.67 647.61,363.62" fill="#3f28ae"/><polygon points="556.17,364.97 561.63,364.03 558.15,363.01 552.69,363.95" fill="#3e26a8"/><polygon points="565.12,365.05 570.58,364.11 567.09,363.09 561.63,364.03" fill="#3e26a8"/><polygon points="574.07,365.13 579.53,364.19 576.04,363.17 570.58,364.11" fill="#3e26a8"/><polygon points="583.01,365.21 588.47,364.28 584.99,363.26 579.53,364.19" fill="#3e26a8"/><polygon points="660.04,363.43 665.5,362.39 662.02,362.39 656.56,363.36" fill="#402cb8"/><polygon points="591.96,365.29 597.42,364.36 593.93,363.34 588.47,364.28" fill="#3e26a8"/><polygon points="600.91,365.37 606.37,364.43 602.88,363.42 597.42,364.36" fill="#3e26a8"/><polygon points="609.85,365.44 615.31,364.5 611.82,363.49 606.37,364.43" fill="#3e26a9"/><polygon points="618.8,365.5 624.26,364.56 620.77,363.56 615.31,364.5" fill="#3e26a9"/><polygon points="627.75,365.54 633.2,364.6 629.72,363.62 624.26,364.56" fill="#3e27a9"/><polygon points="636.69,365.53 642.15,364.57 638.66,363.65 633.2,364.6" fill="#3e27aa"/><polygon points="674.45,355.99 679.91,354.61 676.42,360.33 670.96,361.36" fill="#4848ec"/><polygon points="541.77,365.83 547.23,364.89 543.74,363.87 538.28,364.81" fill="#3e26a8"/><polygon points="645.64,365.3 651.1,364.33 647.61,363.62 642.15,364.57" fill="#3f28ae"/><polygon points="550.71,365.91 556.17,364.97 552.69,363.95 547.23,364.89" fill="#3e26a8"/><polygon points="754.37,282.97 759.83,280.32 756.34,336.13 750.88,337.41" fill="#f6f21e"/><polygon points="559.66,365.99 565.12,365.05 561.63,364.03 556.17,364.97" fill="#3e26a8"/><polygon points="568.61,366.07 574.07,365.13 570.58,364.11 565.12,365.05" fill="#3e26a8"/><polygon points="577.55,366.15 583.01,365.21 579.53,364.19 574.07,365.13" fill="#3e26a8"/><polygon points="654.58,364.45 660.04,363.43 656.56,363.36 651.1,364.33" fill="#402bb7"/><polygon points="586.5,366.23 591.96,365.29 588.47,364.28 583.01,365.21" fill="#3e26a8"/><polygon points="595.45,366.31 600.91,365.37 597.42,364.36 591.96,365.29" fill="#3e26a8"/><polygon points="604.39,366.38 609.85,365.44 606.37,364.43 600.91,365.37" fill="#3e26a9"/><polygon points="613.34,366.45 618.8,365.5 615.31,364.5 609.85,365.44" fill="#3e26a9"/><polygon points="748.91,285.66 754.37,282.97 750.88,337.41 745.42,338.69" fill="#f5e825"/><polygon points="622.29,366.49 627.75,365.54 624.26,364.56 618.8,365.5" fill="#3e27a9"/><polygon points="668.99,357.37 674.45,355.99 670.96,361.36 665.5,362.39" fill="#4746ea"/><polygon points="631.23,366.48 636.69,365.53 633.2,364.6 627.75,365.54" fill="#3e27aa"/><polygon points="640.18,366.27 645.64,365.3 642.15,364.57 636.69,365.53" fill="#3f28ad"/><polygon points="545.26,366.85 550.71,365.91 547.23,364.89 541.77,365.83" fill="#3e26a8"/><polygon points="554.2,366.93 559.66,365.99 556.17,364.97 550.71,365.91" fill="#3e26a8"/><polygon points="563.15,367.01 568.61,366.07 565.12,365.05 559.66,365.99" fill="#3e26a8"/><polygon points="572.09,367.09 577.55,366.15 574.07,365.13 568.61,366.07" fill="#3e26a8"/><polygon points="649.12,365.48 654.58,364.45 651.1,364.33 645.64,365.3" fill="#402bb7"/><polygon points="743.45,288.29 748.91,285.66 745.42,338.69 739.96,339.96" fill="#f6df29"/><polygon points="581.04,367.17 586.5,366.23 583.01,365.21 577.55,366.15" fill="#3e26a8"/><polygon points="589.99,367.25 595.45,366.31 591.96,365.29 586.5,366.23" fill="#3e26a8"/><polygon points="598.93,367.33 604.39,366.38 600.91,365.37 595.45,366.31" fill="#3e26a9"/><polygon points="607.88,367.39 613.34,366.45 609.85,365.44 604.39,366.38" fill="#3e26a9"/><polygon points="663.53,358.75 668.99,357.37 665.5,362.39 660.04,363.43" fill="#4744e8"/><polygon points="616.83,367.43 622.29,366.49 618.8,365.5 613.34,366.45" fill="#3e27a9"/><polygon points="625.77,367.43 631.23,366.48 627.75,365.54 622.29,366.49" fill="#3e27aa"/><polygon points="737.99,290.97 743.45,288.29 739.96,339.96 734.5,341.24" fill="#fad52d"/><polygon points="634.72,367.25 640.18,366.27 636.69,365.53 631.23,366.48" fill="#3f28ad"/><polygon points="548.74,367.87 554.2,366.93 550.71,365.91 545.26,366.85" fill="#3e26a8"/><polygon points="557.69,367.95 563.15,367.01 559.66,365.99 554.2,366.93" fill="#3e26a8"/><polygon points="566.64,368.03 572.09,367.09 568.61,366.07 563.15,367.01" fill="#3e26a8"/><polygon points="643.67,366.51 649.12,365.48 645.64,365.3 640.18,366.27" fill="#402bb6"/><polygon points="575.58,368.11 581.04,367.17 577.55,366.15 572.09,367.09" fill="#3e26a8"/><polygon points="584.53,368.19 589.99,367.25 586.5,366.23 581.04,367.17" fill="#3e26a8"/><polygon points="593.47,368.27 598.93,367.33 595.45,366.31 589.99,367.25" fill="#3e26a9"/><polygon points="658.07,360.1 663.53,358.75 660.04,363.43 654.58,364.45" fill="#4742e6"/><polygon points="732.53,293.64 737.99,290.97 734.5,341.24 729.04,342.52" fill="#fdcb32"/><polygon points="602.42,368.33 607.88,367.39 604.39,366.38 598.93,367.33" fill="#3e26a9"/><polygon points="611.37,368.38 616.83,367.43 613.34,366.45 607.88,367.39" fill="#3e27a9"/><polygon points="620.31,368.38 625.77,367.43 622.29,366.49 616.83,367.43" fill="#3e27aa"/><polygon points="629.26,368.22 634.72,367.25 631.23,366.48 625.77,367.43" fill="#3e28ad"/><polygon points="552.23,368.89 557.69,367.95 554.2,366.93 548.74,367.87" fill="#3e26a8"/><polygon points="727.07,296.28 732.53,293.64 729.04,342.52 723.58,343.79" fill="#fec338"/><polygon points="638.21,367.54 643.67,366.51 640.18,366.27 634.72,367.25" fill="#402ab5"/><polygon points="561.18,368.97 566.64,368.03 563.15,367.01 557.69,367.95" fill="#3e26a8"/><polygon points="570.12,369.05 575.58,368.11 572.09,367.09 566.64,368.03" fill="#3e26a8"/><polygon points="579.07,369.13 584.53,368.19 581.04,367.17 575.58,368.11" fill="#3e26a8"/><polygon points="652.61,361.46 658.07,360.1 654.58,364.45 649.12,365.48" fill="#473fe3"/><polygon points="588.01,369.21 593.47,368.27 589.99,367.25 584.53,368.19" fill="#3e26a8"/><polygon points="596.96,369.28 602.42,368.33 598.93,367.33 593.47,368.27" fill="#3e26a9"/><polygon points="605.91,369.33 611.37,368.38 607.88,367.39 602.42,368.33" fill="#3e27a9"/><polygon points="614.85,369.34 620.31,368.38 616.83,367.43 611.37,368.38" fill="#3e27aa"/><polygon points="721.61,298.97 727.07,296.28 723.58,343.79 718.12,345.07" fill="#fbbc3d"/><polygon points="623.8,369.19 629.26,368.22 625.77,367.43 620.31,368.38" fill="#3e28ac"/><polygon points="632.75,368.57 638.21,367.54 634.72,367.25 629.26,368.22" fill="#402ab4"/><polygon points="555.72,369.91 561.18,368.97 557.69,367.95 552.23,368.89" fill="#3e26a8"/><polygon points="564.66,369.99 570.12,369.05 566.64,368.03 561.18,368.97" fill="#3e26a8"/><polygon points="647.15,362.83 652.61,361.46 649.12,365.48 643.67,366.51" fill="#463de0"/><polygon points="573.61,370.07 579.07,369.13 575.58,368.11 570.12,369.05" fill="#3e26a8"/><polygon points="716.15,301.71 721.61,298.97 718.12,345.07 712.66,346.37" fill="#f1ba37"/><polygon points="582.56,370.15 588.01,369.21 584.53,368.19 579.07,369.13" fill="#3e26a8"/><polygon points="591.5,370.22 596.96,369.28 593.47,368.27 588.01,369.21" fill="#3e26a9"/><polygon points="600.45,370.27 605.91,369.33 602.42,368.33 596.96,369.28" fill="#3e27a9"/><polygon points="609.39,370.29 614.85,369.34 611.37,368.38 605.91,369.33" fill="#3e27aa"/><polygon points="618.34,370.17 623.8,369.19 620.31,368.38 614.85,369.34" fill="#3e27ac"/><polygon points="710.69,304.54 716.15,301.71 712.66,346.37 707.21,347.68" fill="#e2bc2b"/><polygon points="627.29,369.6 632.75,368.57 629.26,368.22 623.8,369.19" fill="#402ab3"/><polygon points="641.69,364.21 647.15,362.83 643.67,366.51 638.21,367.54" fill="#463bdd"/><polygon points="559.2,370.93 564.66,369.99 561.18,368.97 555.72,369.91" fill="#3e26a8"/><polygon points="568.15,371.01 573.61,370.07 570.12,369.05 564.66,369.99" fill="#3e26a8"/><polygon points="577.1,371.09 582.56,370.15 579.07,369.13 573.61,370.07" fill="#3e26a8"/><polygon points="586.04,371.16 591.5,370.22 588.01,369.21 582.56,370.15" fill="#3e26a9"/><polygon points="705.23,307.46 710.69,304.54 707.21,347.68 701.75,349" fill="#cdc028"/><polygon points="594.99,371.22 600.45,370.27 596.96,369.28 591.5,370.22" fill="#3e26a9"/><polygon points="603.94,371.25 609.39,370.29 605.91,369.33 600.45,370.27" fill="#3e27a9"/><polygon points="612.88,371.14 618.34,370.17 614.85,369.34 609.39,370.29" fill="#3e27ab"/><polygon points="621.83,370.63 627.29,369.6 623.8,369.19 618.34,370.17" fill="#3f29b2"/><polygon points="636.23,365.58 641.69,364.21 638.21,367.54 632.75,368.57" fill="#4639da"/><polygon points="699.77,310.73 705.23,307.46 701.75,349 696.29,350.4" fill="#afc636"/><polygon points="562.69,371.95 568.15,371.01 564.66,369.99 559.2,370.93" fill="#3e26a8"/><polygon points="571.64,372.03 577.1,371.09 573.61,370.07 568.15,371.01" fill="#3e26a8"/><polygon points="580.58,372.11 586.04,371.16 582.56,370.15 577.1,371.09" fill="#3e26a8"/><polygon points="694.31,314.04 699.77,310.73 696.29,350.4 690.83,351.8" fill="#90ca4d"/><polygon points="589.53,372.17 594.99,371.22 591.5,370.22 586.04,371.16" fill="#3e26a9"/><polygon points="598.48,372.2 603.94,371.25 600.45,370.27 594.99,371.22" fill="#3e27a9"/><polygon points="607.42,372.12 612.88,371.14 609.39,370.29 603.94,371.25" fill="#3e27ab"/><polygon points="630.77,366.96 636.23,365.58 632.75,368.57 627.29,369.6" fill="#4537d6"/><polygon points="616.37,371.68 621.83,370.63 618.34,370.17 612.88,371.14" fill="#3f29b1"/><polygon points="688.85,317.36 694.31,314.04 690.83,351.8 685.37,353.21" fill="#70cd65"/><polygon points="566.18,372.97 571.64,372.03 568.15,371.01 562.69,371.95" fill="#3e26a8"/><polygon points="575.12,373.05 580.58,372.11 577.1,371.09 571.64,372.03" fill="#3e26a8"/><polygon points="683.4,320.67 688.85,317.36 685.37,353.21 679.91,354.61" fill="#54cc7d"/><polygon points="584.07,373.12 589.53,372.17 586.04,371.16 580.58,372.11" fill="#3e26a9"/><polygon points="593.02,373.16 598.48,372.2 594.99,371.22 589.53,372.17" fill="#3e27a9"/><polygon points="601.96,373.1 607.42,372.12 603.94,371.25 598.48,372.2" fill="#3e27aa"/><polygon points="625.31,368.36 630.77,366.96 627.29,369.6 621.83,370.63" fill="#4535d2"/><polygon points="610.91,372.73 616.37,371.68 612.88,371.14 607.42,372.12" fill="#3f29af"/><polygon points="677.94,323.85 683.4,320.67 679.91,354.61 674.45,355.99" fill="#3dc990"/><polygon points="569.66,373.99 575.12,373.05 571.64,372.03 566.18,372.97" fill="#3e26a8"/><polygon points="578.61,374.06 584.07,373.12 580.58,372.11 575.12,373.05" fill="#3e26a9"/><polygon points="672.48,327.04 677.94,323.85 674.45,355.99 668.99,357.37" fill="#30c5a1"/><polygon points="587.56,374.11 593.02,373.16 589.53,372.17 584.07,373.12" fill="#3e26a9"/><polygon points="619.86,369.8 625.31,368.36 621.83,370.63 616.37,371.68" fill="#4434ce"/><polygon points="596.5,374.09 601.96,373.1 598.48,372.2 593.02,373.16" fill="#3e27aa"/><polygon points="605.45,373.78 610.91,372.73 607.42,372.12 601.96,373.1" fill="#3f28ae"/><polygon points="667.02,330.25 672.48,327.04 668.99,357.37 663.53,358.75" fill="#21c1b0"/><polygon points="573.15,375.01 578.61,374.06 575.12,373.05 569.66,373.99" fill="#3e26a8"/><polygon points="661.56,333.28 667.02,330.25 663.53,358.75 658.07,360.1" fill="#0abdbd"/><polygon points="614.4,371.28 619.86,369.8 616.37,371.68 610.91,372.73" fill="#4332c8"/><polygon points="582.1,375.07 587.56,374.11 584.07,373.12 578.61,374.06" fill="#3e26a9"/><polygon points="591.04,375.07 596.5,374.09 593.02,373.16 587.56,374.11" fill="#3e27aa"/><polygon points="599.99,374.84 605.45,373.78 601.96,373.1 596.5,374.09" fill="#3f28ad"/><polygon points="656.1,336.35 661.56,333.28 658.07,360.1 652.61,361.46" fill="#01b8ca"/><polygon points="608.94,372.76 614.4,371.28 610.91,372.73 605.45,373.78" fill="#4230c3"/><polygon points="576.64,376.03 582.1,375.07 578.61,374.06 573.15,375.01" fill="#3e26a8"/><polygon points="650.64,339.5 656.1,336.35 652.61,361.46 647.15,362.83" fill="#12b1d6"/><polygon points="585.58,376.05 591.04,375.07 587.56,374.11 582.1,375.07" fill="#3e27a9"/><polygon points="594.53,375.9 599.99,374.84 596.5,374.09 591.04,375.07" fill="#3e27ac"/><polygon points="645.18,342.69 650.64,339.5 647.15,362.83 641.69,364.21" fill="#1ca9df"/><polygon points="603.48,374.26 608.94,372.76 605.45,373.78 599.99,374.84" fill="#412dbd"/><polygon points="580.13,377.04 585.58,376.05 582.1,375.07 576.64,376.03" fill="#3e26a9"/><polygon points="639.72,345.79 645.18,342.69 641.69,364.21 636.23,365.58" fill="#23a0e5"/><polygon points="589.07,376.96 594.53,375.9 591.04,375.07 585.58,376.05" fill="#3e27aa"/><polygon points="598.02,375.78 603.48,374.26 599.99,374.84 594.53,375.9" fill="#402bb8"/><polygon points="634.26,348.99 639.72,345.79 636.23,365.58 630.77,366.96" fill="#2797eb"/><polygon points="628.8,352.31 634.26,348.99 630.77,366.96 625.31,368.36" fill="#2d8cf3"/><polygon points="583.61,378.02 589.07,376.96 585.58,376.05 580.13,377.04" fill="#3e27a9"/><polygon points="592.56,377.29 598.02,375.78 594.53,375.9 589.07,376.96" fill="#3f29b2"/><polygon points="623.34,355.78 628.8,352.31 625.31,368.36 619.86,369.8" fill="#307ffb"/><polygon points="617.88,359.47 623.34,355.78 619.86,369.8 614.4,371.28" fill="#3d70ff"/><polygon points="587.1,378.81 592.56,377.29 589.07,376.96 583.61,378.02" fill="#3e27ab"/><polygon points="612.42,363.2 617.88,359.47 614.4,371.28 608.94,372.76" fill="#4562fc"/><polygon points="606.96,367 612.42,363.2 608.94,372.76 603.48,374.26" fill="#4853f5"/><polygon points="601.5,370.87 606.96,367 603.48,374.26 598.02,375.78" fill="#4745e9"/><polygon points="596.05,374.75 601.5,370.87 598.02,375.78 592.56,377.29" fill="#4537d5"/><polygon points="590.59,378.64 596.05,374.75 592.56,377.29 587.1,378.81" fill="#402bb8"/></g>
</svg>
</body></html>
